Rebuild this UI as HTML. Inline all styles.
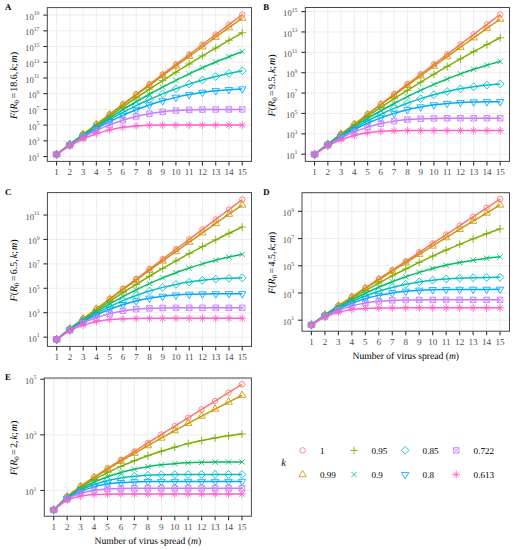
<!DOCTYPE html>
<html><head><meta charset="utf-8"><style>
html,body{margin:0;padding:0;background:#fff;}
svg{display:block;font-family:"Liberation Serif",serif;text-rendering:geometricPrecision;}
</style></head><body>
<svg width="515" height="550" viewBox="0 0 515 550">
<rect width="515" height="550" fill="#fff"/>
<g stroke="#EBEBEB" stroke-width="0.9">
<line x1="56.58" y1="7.60" x2="56.58" y2="161.40"/>
<line x1="69.84" y1="7.60" x2="69.84" y2="161.40"/>
<line x1="83.10" y1="7.60" x2="83.10" y2="161.40"/>
<line x1="96.36" y1="7.60" x2="96.36" y2="161.40"/>
<line x1="109.62" y1="7.60" x2="109.62" y2="161.40"/>
<line x1="122.88" y1="7.60" x2="122.88" y2="161.40"/>
<line x1="136.14" y1="7.60" x2="136.14" y2="161.40"/>
<line x1="149.40" y1="7.60" x2="149.40" y2="161.40"/>
<line x1="162.66" y1="7.60" x2="162.66" y2="161.40"/>
<line x1="175.92" y1="7.60" x2="175.92" y2="161.40"/>
<line x1="189.18" y1="7.60" x2="189.18" y2="161.40"/>
<line x1="202.44" y1="7.60" x2="202.44" y2="161.40"/>
<line x1="215.70" y1="7.60" x2="215.70" y2="161.40"/>
<line x1="228.96" y1="7.60" x2="228.96" y2="161.40"/>
<line x1="242.22" y1="7.60" x2="242.22" y2="161.40"/>
<line x1="47.30" y1="156.53" x2="251.50" y2="156.53"/>
<line x1="47.30" y1="140.81" x2="251.50" y2="140.81"/>
<line x1="47.30" y1="125.10" x2="251.50" y2="125.10"/>
<line x1="47.30" y1="109.39" x2="251.50" y2="109.39"/>
<line x1="47.30" y1="93.68" x2="251.50" y2="93.68"/>
<line x1="47.30" y1="77.96" x2="251.50" y2="77.96"/>
<line x1="47.30" y1="62.25" x2="251.50" y2="62.25"/>
<line x1="47.30" y1="46.54" x2="251.50" y2="46.54"/>
<line x1="47.30" y1="30.83" x2="251.50" y2="30.83"/>
<line x1="47.30" y1="15.11" x2="251.50" y2="15.11"/>
</g>
<path d="M56.58 154.41C61.00 151.03 65.42 147.61 69.84 144.26C74.26 140.90 78.68 137.60 83.10 134.27C87.52 130.95 91.94 127.62 96.36 124.30C100.78 120.98 105.20 117.65 109.62 114.33C114.04 111.00 118.46 107.68 122.88 104.35C127.30 101.03 131.72 97.70 136.14 94.38C140.56 91.05 144.98 87.73 149.40 84.41C153.82 81.08 158.24 77.76 162.66 74.43C167.08 71.11 171.50 67.78 175.92 64.46C180.34 61.13 184.76 57.81 189.18 54.49C193.60 51.16 198.02 47.84 202.44 44.51C206.86 41.19 211.28 37.86 215.70 34.54C220.12 31.21 224.54 27.89 228.96 24.56C233.38 21.24 237.80 17.92 242.22 14.59" fill="none" stroke="#F8766D" stroke-width="1.5" stroke-linejoin="round"/>
<path d="M56.58 154.41C61.00 151.04 65.42 147.63 69.84 144.29C74.26 140.95 78.68 137.67 83.10 134.37C87.52 131.07 91.94 127.79 96.36 124.50C100.78 121.21 105.20 117.94 109.62 114.66C114.04 111.39 118.46 108.12 122.88 104.86C127.30 101.59 131.72 98.34 136.14 95.09C140.56 91.84 144.98 88.59 149.40 85.35C153.82 82.11 158.24 78.88 162.66 75.65C167.08 72.42 171.50 69.20 175.92 65.98C180.34 62.77 184.76 59.56 189.18 56.35C193.60 53.15 198.02 49.95 202.44 46.75C206.86 43.56 211.28 40.37 215.70 37.19C220.12 34.01 224.54 30.83 228.96 27.66C233.38 24.49 237.80 21.33 242.22 18.16" fill="none" stroke="#CD9600" stroke-width="1.5" stroke-linejoin="round"/>
<path d="M56.58 154.41C61.00 151.08 65.42 147.69 69.84 144.42C74.26 141.15 78.68 137.96 83.10 134.78C87.52 131.59 91.94 128.44 96.36 125.32C100.78 122.19 105.20 119.10 109.62 116.03C114.04 112.97 118.46 109.93 122.88 106.92C127.30 103.91 131.72 100.93 136.14 97.98C140.56 95.03 144.98 92.11 149.40 89.22C153.82 86.33 158.24 83.47 162.66 80.63C167.08 77.80 171.50 75.00 175.92 72.22C180.34 69.44 184.76 66.70 189.18 63.98C193.60 61.26 198.02 58.57 202.44 55.91C206.86 53.25 211.28 50.62 215.70 48.02C220.12 45.42 224.54 42.85 228.96 40.30C233.38 37.76 237.80 35.27 242.22 32.76" fill="none" stroke="#7CAE00" stroke-width="1.5" stroke-linejoin="round"/>
<path d="M56.58 154.41C61.00 151.14 65.42 147.78 69.84 144.60C74.26 141.41 78.68 138.34 83.10 135.31C87.52 132.27 91.94 129.30 96.36 126.39C100.78 123.47 105.20 120.62 109.62 117.82C114.04 115.02 118.46 112.29 122.88 109.61C127.30 106.93 131.72 104.32 136.14 101.76C140.56 99.20 144.98 96.70 149.40 94.26C153.82 91.82 158.24 89.44 162.66 87.11C167.08 84.79 171.50 82.53 175.92 80.32C180.34 78.12 184.76 75.97 189.18 73.88C193.60 71.80 198.02 69.77 202.44 67.80C206.86 65.83 211.28 63.92 215.70 62.06C220.12 60.21 224.54 58.41 228.96 56.68C233.38 54.94 237.80 53.32 242.22 51.64" fill="none" stroke="#00BE67" stroke-width="1.5" stroke-linejoin="round"/>
<path d="M56.58 154.41C61.00 151.20 65.42 147.87 69.84 144.78C74.26 141.69 78.68 138.74 83.10 135.87C87.52 132.99 91.94 130.20 96.36 127.51C100.78 124.81 105.20 122.21 109.62 119.70C114.04 117.18 118.46 114.76 122.88 112.43C127.30 110.09 131.72 107.85 136.14 105.70C140.56 103.55 144.98 101.49 149.40 99.51C153.82 97.54 158.24 95.66 162.66 93.86C167.08 92.06 171.50 90.36 175.92 88.74C180.34 87.12 184.76 85.59 189.18 84.14C193.60 82.70 198.02 81.34 202.44 80.07C206.86 78.79 211.28 77.61 215.70 76.50C220.12 75.39 224.54 74.37 228.96 73.43C233.38 72.49 237.80 71.71 242.22 70.84" fill="none" stroke="#00BFC4" stroke-width="1.5" stroke-linejoin="round"/>
<path d="M56.58 154.41C61.00 151.26 65.42 147.97 69.84 144.97C74.26 141.98 78.68 139.17 83.10 136.45C87.52 133.74 91.94 131.15 96.36 128.69C100.78 126.22 105.20 123.88 109.62 121.66C114.04 119.44 118.46 117.35 122.88 115.37C127.30 113.40 131.72 111.55 136.14 109.81C140.56 108.08 144.98 106.47 149.40 104.97C153.82 103.47 158.24 102.09 162.66 100.83C167.08 99.56 171.50 98.41 175.92 97.37C180.34 96.33 184.76 95.40 189.18 94.57C193.60 93.74 198.02 93.02 202.44 92.39C206.86 91.76 211.28 91.23 215.70 90.78C220.12 90.32 224.54 89.97 228.96 89.67C233.38 89.36 237.80 89.20 242.22 88.97" fill="none" stroke="#00A9FF" stroke-width="1.5" stroke-linejoin="round"/>
<path d="M56.58 154.41C61.00 151.37 65.42 148.13 69.84 145.30C74.26 142.47 78.68 139.88 83.10 137.44C87.52 135.00 91.94 132.74 96.36 130.65C100.78 128.57 105.20 126.66 109.62 124.92C114.04 123.19 118.46 121.62 122.88 120.22C127.30 118.82 131.72 117.59 136.14 116.51C140.56 115.42 144.98 114.51 149.40 113.72C153.82 112.93 158.24 112.31 162.66 111.78C167.08 111.25 171.50 110.87 175.92 110.56C180.34 110.25 184.76 110.05 189.18 109.89C193.60 109.73 198.02 109.66 202.44 109.60C206.86 109.53 211.28 109.51 215.70 109.49C220.12 109.47 224.54 109.47 228.96 109.46C233.38 109.46 237.80 109.46 242.22 109.46" fill="none" stroke="#C77CFF" stroke-width="1.5" stroke-linejoin="round"/>
<path d="M56.58 154.41C61.00 151.55 65.42 148.39 69.84 145.82C74.26 143.25 78.68 141.00 83.10 138.98C87.52 136.96 91.94 135.21 96.36 133.69C100.78 132.17 105.20 130.92 109.62 129.87C114.04 128.81 118.46 128.01 122.88 127.36C127.30 126.71 131.72 126.29 136.14 125.95C140.56 125.60 144.98 125.45 149.40 125.31C153.82 125.17 158.24 125.13 162.66 125.10C167.08 125.07 171.50 125.06 175.92 125.05C180.34 125.05 184.76 125.05 189.18 125.05C193.60 125.05 198.02 125.05 202.44 125.05C206.86 125.05 211.28 125.05 215.70 125.05C220.12 125.05 224.54 125.05 228.96 125.05C233.38 125.05 237.80 125.05 242.22 125.05" fill="none" stroke="#FF61CC" stroke-width="1.5" stroke-linejoin="round"/>
<circle cx="56.58" cy="154.41" r="2.75" stroke="#F8766D" stroke-width="0.85" fill="none"/>
<circle cx="69.84" cy="144.26" r="2.75" stroke="#F8766D" stroke-width="0.85" fill="none"/>
<circle cx="83.10" cy="134.27" r="2.75" stroke="#F8766D" stroke-width="0.85" fill="none"/>
<circle cx="96.36" cy="124.30" r="2.75" stroke="#F8766D" stroke-width="0.85" fill="none"/>
<circle cx="109.62" cy="114.33" r="2.75" stroke="#F8766D" stroke-width="0.85" fill="none"/>
<circle cx="122.88" cy="104.35" r="2.75" stroke="#F8766D" stroke-width="0.85" fill="none"/>
<circle cx="136.14" cy="94.38" r="2.75" stroke="#F8766D" stroke-width="0.85" fill="none"/>
<circle cx="149.40" cy="84.41" r="2.75" stroke="#F8766D" stroke-width="0.85" fill="none"/>
<circle cx="162.66" cy="74.43" r="2.75" stroke="#F8766D" stroke-width="0.85" fill="none"/>
<circle cx="175.92" cy="64.46" r="2.75" stroke="#F8766D" stroke-width="0.85" fill="none"/>
<circle cx="189.18" cy="54.49" r="2.75" stroke="#F8766D" stroke-width="0.85" fill="none"/>
<circle cx="202.44" cy="44.51" r="2.75" stroke="#F8766D" stroke-width="0.85" fill="none"/>
<circle cx="215.70" cy="34.54" r="2.75" stroke="#F8766D" stroke-width="0.85" fill="none"/>
<circle cx="228.96" cy="24.56" r="2.75" stroke="#F8766D" stroke-width="0.85" fill="none"/>
<circle cx="242.22" cy="14.59" r="2.75" stroke="#F8766D" stroke-width="0.85" fill="none"/>
<polygon points="56.58,150.13 60.29,156.55 52.88,156.55" stroke="#CD9600" stroke-width="0.85" fill="none" stroke-linejoin="miter"/>
<polygon points="69.84,140.01 73.55,146.43 66.14,146.43" stroke="#CD9600" stroke-width="0.85" fill="none" stroke-linejoin="miter"/>
<polygon points="83.10,130.10 86.80,136.51 79.40,136.51" stroke="#CD9600" stroke-width="0.85" fill="none" stroke-linejoin="miter"/>
<polygon points="96.36,120.22 100.06,126.64 92.66,126.64" stroke="#CD9600" stroke-width="0.85" fill="none" stroke-linejoin="miter"/>
<polygon points="109.62,110.38 113.32,116.80 105.92,116.80" stroke="#CD9600" stroke-width="0.85" fill="none" stroke-linejoin="miter"/>
<polygon points="122.88,100.58 126.58,107.00 119.18,107.00" stroke="#CD9600" stroke-width="0.85" fill="none" stroke-linejoin="miter"/>
<polygon points="136.14,90.81 139.84,97.23 132.44,97.23" stroke="#CD9600" stroke-width="0.85" fill="none" stroke-linejoin="miter"/>
<polygon points="149.40,81.08 153.10,87.49 145.70,87.49" stroke="#CD9600" stroke-width="0.85" fill="none" stroke-linejoin="miter"/>
<polygon points="162.66,71.37 166.36,77.79 158.96,77.79" stroke="#CD9600" stroke-width="0.85" fill="none" stroke-linejoin="miter"/>
<polygon points="175.92,61.71 179.62,68.12 172.22,68.12" stroke="#CD9600" stroke-width="0.85" fill="none" stroke-linejoin="miter"/>
<polygon points="189.18,52.07 192.88,58.49 185.48,58.49" stroke="#CD9600" stroke-width="0.85" fill="none" stroke-linejoin="miter"/>
<polygon points="202.44,42.48 206.14,48.89 198.74,48.89" stroke="#CD9600" stroke-width="0.85" fill="none" stroke-linejoin="miter"/>
<polygon points="215.70,32.91 219.40,39.33 212.00,39.33" stroke="#CD9600" stroke-width="0.85" fill="none" stroke-linejoin="miter"/>
<polygon points="228.96,23.38 232.66,29.80 225.25,29.80" stroke="#CD9600" stroke-width="0.85" fill="none" stroke-linejoin="miter"/>
<polygon points="242.22,13.89 245.92,20.30 238.51,20.30" stroke="#CD9600" stroke-width="0.85" fill="none" stroke-linejoin="miter"/>
<path d="M52.69 154.41H60.47M56.58 150.52V158.30" stroke="#7CAE00" stroke-width="0.85" fill="none"/>
<path d="M65.95 144.42H73.73M69.84 140.53V148.31" stroke="#7CAE00" stroke-width="0.85" fill="none"/>
<path d="M79.21 134.78H86.99M83.10 130.89V138.67" stroke="#7CAE00" stroke-width="0.85" fill="none"/>
<path d="M92.47 125.32H100.25M96.36 121.43V129.21" stroke="#7CAE00" stroke-width="0.85" fill="none"/>
<path d="M105.73 116.03H113.51M109.62 112.14V119.92" stroke="#7CAE00" stroke-width="0.85" fill="none"/>
<path d="M118.99 106.92H126.77M122.88 103.03V110.81" stroke="#7CAE00" stroke-width="0.85" fill="none"/>
<path d="M132.25 97.98H140.03M136.14 94.10V101.87" stroke="#7CAE00" stroke-width="0.85" fill="none"/>
<path d="M145.51 89.22H153.29M149.40 85.33V93.11" stroke="#7CAE00" stroke-width="0.85" fill="none"/>
<path d="M158.77 80.63H166.55M162.66 76.74V84.52" stroke="#7CAE00" stroke-width="0.85" fill="none"/>
<path d="M172.03 72.22H179.81M175.92 68.33V76.11" stroke="#7CAE00" stroke-width="0.85" fill="none"/>
<path d="M185.29 63.98H193.07M189.18 60.09V67.87" stroke="#7CAE00" stroke-width="0.85" fill="none"/>
<path d="M198.55 55.91H206.33M202.44 52.02V59.80" stroke="#7CAE00" stroke-width="0.85" fill="none"/>
<path d="M211.81 48.02H219.59M215.70 44.13V51.91" stroke="#7CAE00" stroke-width="0.85" fill="none"/>
<path d="M225.07 40.30H232.85M228.96 36.41V44.19" stroke="#7CAE00" stroke-width="0.85" fill="none"/>
<path d="M238.33 32.76H246.11M242.22 28.87V36.65" stroke="#7CAE00" stroke-width="0.85" fill="none"/>
<path d="M53.83 151.66L59.33 157.16M53.83 157.16L59.33 151.66" stroke="#00BE67" stroke-width="0.85" fill="none"/>
<path d="M67.09 141.85L72.59 147.35M67.09 147.35L72.59 141.85" stroke="#00BE67" stroke-width="0.85" fill="none"/>
<path d="M80.35 132.56L85.85 138.06M80.35 138.06L85.85 132.56" stroke="#00BE67" stroke-width="0.85" fill="none"/>
<path d="M93.61 123.64L99.11 129.14M93.61 129.14L99.11 123.64" stroke="#00BE67" stroke-width="0.85" fill="none"/>
<path d="M106.87 115.07L112.37 120.57M106.87 120.57L112.37 115.07" stroke="#00BE67" stroke-width="0.85" fill="none"/>
<path d="M120.13 106.86L125.63 112.36M120.13 112.36L125.63 106.86" stroke="#00BE67" stroke-width="0.85" fill="none"/>
<path d="M133.39 99.01L138.89 104.51M133.39 104.51L138.89 99.01" stroke="#00BE67" stroke-width="0.85" fill="none"/>
<path d="M146.65 91.51L152.15 97.01M146.65 97.01L152.15 91.51" stroke="#00BE67" stroke-width="0.85" fill="none"/>
<path d="M159.91 84.36L165.41 89.86M159.91 89.86L165.41 84.36" stroke="#00BE67" stroke-width="0.85" fill="none"/>
<path d="M173.17 77.57L178.67 83.07M173.17 83.07L178.67 77.57" stroke="#00BE67" stroke-width="0.85" fill="none"/>
<path d="M186.43 71.13L191.93 76.63M186.43 76.63L191.93 71.13" stroke="#00BE67" stroke-width="0.85" fill="none"/>
<path d="M199.69 65.05L205.19 70.55M199.69 70.55L205.19 65.05" stroke="#00BE67" stroke-width="0.85" fill="none"/>
<path d="M212.95 59.31L218.45 64.81M212.95 64.81L218.45 59.31" stroke="#00BE67" stroke-width="0.85" fill="none"/>
<path d="M226.21 53.93L231.71 59.43M226.21 59.43L231.71 53.93" stroke="#00BE67" stroke-width="0.85" fill="none"/>
<path d="M239.47 48.89L244.97 54.39M239.47 54.39L244.97 48.89" stroke="#00BE67" stroke-width="0.85" fill="none"/>
<path d="M52.69 154.41L56.58 150.52L60.47 154.41L56.58 158.30Z" stroke="#00BFC4" stroke-width="0.85" fill="none"/>
<path d="M65.95 144.78L69.84 140.89L73.73 144.78L69.84 148.67Z" stroke="#00BFC4" stroke-width="0.85" fill="none"/>
<path d="M79.21 135.87L83.10 131.98L86.99 135.87L83.10 139.75Z" stroke="#00BFC4" stroke-width="0.85" fill="none"/>
<path d="M92.47 127.51L96.36 123.62L100.25 127.51L96.36 131.40Z" stroke="#00BFC4" stroke-width="0.85" fill="none"/>
<path d="M105.73 119.70L109.62 115.81L113.51 119.70L109.62 123.58Z" stroke="#00BFC4" stroke-width="0.85" fill="none"/>
<path d="M118.99 112.43L122.88 108.54L126.77 112.43L122.88 116.32Z" stroke="#00BFC4" stroke-width="0.85" fill="none"/>
<path d="M132.25 105.70L136.14 101.81L140.03 105.70L136.14 109.59Z" stroke="#00BFC4" stroke-width="0.85" fill="none"/>
<path d="M145.51 99.51L149.40 95.62L153.29 99.51L149.40 103.40Z" stroke="#00BFC4" stroke-width="0.85" fill="none"/>
<path d="M158.77 93.86L162.66 89.97L166.55 93.86L162.66 97.75Z" stroke="#00BFC4" stroke-width="0.85" fill="none"/>
<path d="M172.03 88.74L175.92 84.85L179.81 88.74L175.92 92.63Z" stroke="#00BFC4" stroke-width="0.85" fill="none"/>
<path d="M185.29 84.14L189.18 80.25L193.07 84.14L189.18 88.03Z" stroke="#00BFC4" stroke-width="0.85" fill="none"/>
<path d="M198.55 80.07L202.44 76.18L206.33 80.07L202.44 83.96Z" stroke="#00BFC4" stroke-width="0.85" fill="none"/>
<path d="M211.81 76.50L215.70 72.61L219.59 76.50L215.70 80.39Z" stroke="#00BFC4" stroke-width="0.85" fill="none"/>
<path d="M225.07 73.43L228.96 69.54L232.85 73.43L228.96 77.32Z" stroke="#00BFC4" stroke-width="0.85" fill="none"/>
<path d="M238.33 70.84L242.22 66.96L246.11 70.84L242.22 74.73Z" stroke="#00BFC4" stroke-width="0.85" fill="none"/>
<polygon points="56.58,158.69 60.29,152.27 52.88,152.27" stroke="#00A9FF" stroke-width="0.85" fill="none" stroke-linejoin="miter"/>
<polygon points="69.84,149.25 73.55,142.84 66.14,142.84" stroke="#00A9FF" stroke-width="0.85" fill="none" stroke-linejoin="miter"/>
<polygon points="83.10,140.73 86.80,134.31 79.40,134.31" stroke="#00A9FF" stroke-width="0.85" fill="none" stroke-linejoin="miter"/>
<polygon points="96.36,132.96 100.06,126.55 92.66,126.55" stroke="#00A9FF" stroke-width="0.85" fill="none" stroke-linejoin="miter"/>
<polygon points="109.62,125.94 113.32,119.52 105.92,119.52" stroke="#00A9FF" stroke-width="0.85" fill="none" stroke-linejoin="miter"/>
<polygon points="122.88,119.65 126.58,113.24 119.18,113.24" stroke="#00A9FF" stroke-width="0.85" fill="none" stroke-linejoin="miter"/>
<polygon points="136.14,114.09 139.84,107.67 132.44,107.67" stroke="#00A9FF" stroke-width="0.85" fill="none" stroke-linejoin="miter"/>
<polygon points="149.40,109.24 153.10,102.83 145.70,102.83" stroke="#00A9FF" stroke-width="0.85" fill="none" stroke-linejoin="miter"/>
<polygon points="162.66,105.10 166.36,98.69 158.96,98.69" stroke="#00A9FF" stroke-width="0.85" fill="none" stroke-linejoin="miter"/>
<polygon points="175.92,101.65 179.62,95.23 172.22,95.23" stroke="#00A9FF" stroke-width="0.85" fill="none" stroke-linejoin="miter"/>
<polygon points="189.18,98.85 192.88,92.43 185.48,92.43" stroke="#00A9FF" stroke-width="0.85" fill="none" stroke-linejoin="miter"/>
<polygon points="202.44,96.67 206.14,90.25 198.74,90.25" stroke="#00A9FF" stroke-width="0.85" fill="none" stroke-linejoin="miter"/>
<polygon points="215.70,95.05 219.40,88.64 212.00,88.64" stroke="#00A9FF" stroke-width="0.85" fill="none" stroke-linejoin="miter"/>
<polygon points="228.96,93.94 232.66,87.53 225.25,87.53" stroke="#00A9FF" stroke-width="0.85" fill="none" stroke-linejoin="miter"/>
<polygon points="242.22,93.24 245.92,86.83 238.51,86.83" stroke="#00A9FF" stroke-width="0.85" fill="none" stroke-linejoin="miter"/>
<path d="M53.83 151.66H59.33V157.16H53.83ZM53.83 151.66L59.33 157.16M53.83 157.16L59.33 151.66" stroke="#C77CFF" stroke-width="0.85" fill="none"/>
<path d="M67.09 142.55H72.59V148.05H67.09ZM67.09 142.55L72.59 148.05M67.09 148.05L72.59 142.55" stroke="#C77CFF" stroke-width="0.85" fill="none"/>
<path d="M80.35 134.69H85.85V140.19H80.35ZM80.35 134.69L85.85 140.19M80.35 140.19L85.85 134.69" stroke="#C77CFF" stroke-width="0.85" fill="none"/>
<path d="M93.61 127.90H99.11V133.40H93.61ZM93.61 127.90L99.11 133.40M93.61 133.40L99.11 127.90" stroke="#C77CFF" stroke-width="0.85" fill="none"/>
<path d="M106.87 122.17H112.37V127.67H106.87ZM106.87 122.17L112.37 127.67M106.87 127.67L112.37 122.17" stroke="#C77CFF" stroke-width="0.85" fill="none"/>
<path d="M120.13 117.47H125.63V122.97H120.13ZM120.13 117.47L125.63 122.97M120.13 122.97L125.63 117.47" stroke="#C77CFF" stroke-width="0.85" fill="none"/>
<path d="M133.39 113.76H138.89V119.26H133.39ZM133.39 113.76L138.89 119.26M133.39 119.26L138.89 113.76" stroke="#C77CFF" stroke-width="0.85" fill="none"/>
<path d="M146.65 110.97H152.15V116.47H146.65ZM146.65 110.97L152.15 116.47M146.65 116.47L152.15 110.97" stroke="#C77CFF" stroke-width="0.85" fill="none"/>
<path d="M159.91 109.03H165.41V114.53H159.91ZM159.91 109.03L165.41 114.53M159.91 114.53L165.41 109.03" stroke="#C77CFF" stroke-width="0.85" fill="none"/>
<path d="M173.17 107.81H178.67V113.31H173.17ZM173.17 107.81L178.67 113.31M173.17 113.31L178.67 107.81" stroke="#C77CFF" stroke-width="0.85" fill="none"/>
<path d="M186.43 107.14H191.93V112.64H186.43ZM186.43 107.14L191.93 112.64M186.43 112.64L191.93 107.14" stroke="#C77CFF" stroke-width="0.85" fill="none"/>
<path d="M199.69 106.85H205.19V112.35H199.69ZM199.69 106.85L205.19 112.35M199.69 112.35L205.19 106.85" stroke="#C77CFF" stroke-width="0.85" fill="none"/>
<path d="M212.95 106.74H218.45V112.24H212.95ZM212.95 106.74L218.45 112.24M212.95 112.24L218.45 106.74" stroke="#C77CFF" stroke-width="0.85" fill="none"/>
<path d="M226.21 106.71H231.71V112.21H226.21ZM226.21 106.71L231.71 112.21M226.21 112.21L231.71 106.71" stroke="#C77CFF" stroke-width="0.85" fill="none"/>
<path d="M239.47 106.71H244.97V112.21H239.47ZM239.47 106.71L244.97 112.21M239.47 112.21L244.97 106.71" stroke="#C77CFF" stroke-width="0.85" fill="none"/>
<path d="M53.83 151.66L59.33 157.16M53.83 157.16L59.33 151.66M52.69 154.41H60.47M56.58 150.52V158.30" stroke="#FF61CC" stroke-width="0.85" fill="none"/>
<path d="M67.09 143.07L72.59 148.57M67.09 148.57L72.59 143.07M65.95 145.82H73.73M69.84 141.93V149.71" stroke="#FF61CC" stroke-width="0.85" fill="none"/>
<path d="M80.35 136.23L85.85 141.73M80.35 141.73L85.85 136.23M79.21 138.98H86.99M83.10 135.09V142.87" stroke="#FF61CC" stroke-width="0.85" fill="none"/>
<path d="M93.61 130.94L99.11 136.44M93.61 136.44L99.11 130.94M92.47 133.69H100.25M96.36 129.80V137.58" stroke="#FF61CC" stroke-width="0.85" fill="none"/>
<path d="M106.87 127.12L112.37 132.62M106.87 132.62L112.37 127.12M105.73 129.87H113.51M109.62 125.98V133.76" stroke="#FF61CC" stroke-width="0.85" fill="none"/>
<path d="M120.13 124.61L125.63 130.11M120.13 130.11L125.63 124.61M118.99 127.36H126.77M122.88 123.47V131.25" stroke="#FF61CC" stroke-width="0.85" fill="none"/>
<path d="M133.39 123.20L138.89 128.70M133.39 128.70L138.89 123.20M132.25 125.95H140.03M136.14 122.06V129.83" stroke="#FF61CC" stroke-width="0.85" fill="none"/>
<path d="M146.65 122.56L152.15 128.06M146.65 128.06L152.15 122.56M145.51 125.31H153.29M149.40 121.42V129.20" stroke="#FF61CC" stroke-width="0.85" fill="none"/>
<path d="M159.91 122.35L165.41 127.85M159.91 127.85L165.41 122.35M158.77 125.10H166.55M162.66 121.21V128.99" stroke="#FF61CC" stroke-width="0.85" fill="none"/>
<path d="M173.17 122.30L178.67 127.80M173.17 127.80L178.67 122.30M172.03 125.05H179.81M175.92 121.16V128.94" stroke="#FF61CC" stroke-width="0.85" fill="none"/>
<path d="M186.43 122.30L191.93 127.80M186.43 127.80L191.93 122.30M185.29 125.05H193.07M189.18 121.16V128.94" stroke="#FF61CC" stroke-width="0.85" fill="none"/>
<path d="M199.69 122.30L205.19 127.80M199.69 127.80L205.19 122.30M198.55 125.05H206.33M202.44 121.16V128.94" stroke="#FF61CC" stroke-width="0.85" fill="none"/>
<path d="M212.95 122.30L218.45 127.80M212.95 127.80L218.45 122.30M211.81 125.05H219.59M215.70 121.16V128.94" stroke="#FF61CC" stroke-width="0.85" fill="none"/>
<path d="M226.21 122.30L231.71 127.80M226.21 127.80L231.71 122.30M225.07 125.05H232.85M228.96 121.16V128.94" stroke="#FF61CC" stroke-width="0.85" fill="none"/>
<path d="M239.47 122.30L244.97 127.80M239.47 127.80L244.97 122.30M238.33 125.05H246.11M242.22 121.16V128.94" stroke="#FF61CC" stroke-width="0.85" fill="none"/>
<rect x="47.30" y="7.60" width="204.20" height="153.80" fill="none" stroke="#474747" stroke-width="1"/>
<g stroke="#333333" stroke-width="1.1">
<line x1="56.58" y1="161.40" x2="56.58" y2="165.40"/>
<line x1="69.84" y1="161.40" x2="69.84" y2="165.40"/>
<line x1="83.10" y1="161.40" x2="83.10" y2="165.40"/>
<line x1="96.36" y1="161.40" x2="96.36" y2="165.40"/>
<line x1="109.62" y1="161.40" x2="109.62" y2="165.40"/>
<line x1="122.88" y1="161.40" x2="122.88" y2="165.40"/>
<line x1="136.14" y1="161.40" x2="136.14" y2="165.40"/>
<line x1="149.40" y1="161.40" x2="149.40" y2="165.40"/>
<line x1="162.66" y1="161.40" x2="162.66" y2="165.40"/>
<line x1="175.92" y1="161.40" x2="175.92" y2="165.40"/>
<line x1="189.18" y1="161.40" x2="189.18" y2="165.40"/>
<line x1="202.44" y1="161.40" x2="202.44" y2="165.40"/>
<line x1="215.70" y1="161.40" x2="215.70" y2="165.40"/>
<line x1="228.96" y1="161.40" x2="228.96" y2="165.40"/>
<line x1="242.22" y1="161.40" x2="242.22" y2="165.40"/>
<line x1="43.30" y1="156.53" x2="47.30" y2="156.53"/>
<line x1="43.30" y1="140.81" x2="47.30" y2="140.81"/>
<line x1="43.30" y1="125.10" x2="47.30" y2="125.10"/>
<line x1="43.30" y1="109.39" x2="47.30" y2="109.39"/>
<line x1="43.30" y1="93.68" x2="47.30" y2="93.68"/>
<line x1="43.30" y1="77.96" x2="47.30" y2="77.96"/>
<line x1="43.30" y1="62.25" x2="47.30" y2="62.25"/>
<line x1="43.30" y1="46.54" x2="47.30" y2="46.54"/>
<line x1="43.30" y1="30.83" x2="47.30" y2="30.83"/>
<line x1="43.30" y1="15.11" x2="47.30" y2="15.11"/>
</g>
<g fill="#4D4D4D" font-size="9.1" text-anchor="middle">
<text x="56.58" y="174.80">1</text>
<text x="69.84" y="174.80">2</text>
<text x="83.10" y="174.80">3</text>
<text x="96.36" y="174.80">4</text>
<text x="109.62" y="174.80">5</text>
<text x="122.88" y="174.80">6</text>
<text x="136.14" y="174.80">7</text>
<text x="149.40" y="174.80">8</text>
<text x="162.66" y="174.80">9</text>
<text x="175.92" y="174.80">10</text>
<text x="189.18" y="174.80">11</text>
<text x="202.44" y="174.80">12</text>
<text x="215.70" y="174.80">13</text>
<text x="228.96" y="174.80">14</text>
<text x="242.22" y="174.80">15</text>
</g>
<g fill="#4D4D4D" font-size="8.6" text-anchor="end">
<text x="39.50" y="161.13">10<tspan font-size="5.8" dy="-4.3">1</tspan></text>
<text x="39.50" y="145.41">10<tspan font-size="5.8" dy="-4.3">3</tspan></text>
<text x="39.50" y="129.70">10<tspan font-size="5.8" dy="-4.3">5</tspan></text>
<text x="39.50" y="113.99">10<tspan font-size="5.8" dy="-4.3">7</tspan></text>
<text x="39.50" y="98.28">10<tspan font-size="5.8" dy="-4.3">9</tspan></text>
<text x="39.50" y="82.56">10<tspan font-size="5.8" dy="-4.3">11</tspan></text>
<text x="39.50" y="66.85">10<tspan font-size="5.8" dy="-4.3">13</tspan></text>
<text x="39.50" y="51.14">10<tspan font-size="5.8" dy="-4.3">15</tspan></text>
<text x="39.50" y="35.43">10<tspan font-size="5.8" dy="-4.3">17</tspan></text>
<text x="39.50" y="19.71">10<tspan font-size="5.8" dy="-4.3">19</tspan></text>
</g>
<text x="5.00" y="10.10" font-size="8.8" font-weight="bold">A</text>
<text transform="translate(17.40,85.40) rotate(-90)" font-size="10.0" text-anchor="middle"><tspan font-style="italic">F</tspan>(<tspan font-style="italic">R</tspan><tspan font-size="7.00" dy="1.8">0</tspan><tspan dy="-1.8" dx="1.3">=</tspan><tspan dx="1.3">18.6,</tspan><tspan dx="1" font-style="italic">k</tspan><tspan>;</tspan><tspan dx="1" font-style="italic">m</tspan>)</text>
<g stroke="#EBEBEB" stroke-width="0.9">
<line x1="314.58" y1="7.50" x2="314.58" y2="161.40"/>
<line x1="327.84" y1="7.50" x2="327.84" y2="161.40"/>
<line x1="341.10" y1="7.50" x2="341.10" y2="161.40"/>
<line x1="354.36" y1="7.50" x2="354.36" y2="161.40"/>
<line x1="367.62" y1="7.50" x2="367.62" y2="161.40"/>
<line x1="380.88" y1="7.50" x2="380.88" y2="161.40"/>
<line x1="394.14" y1="7.50" x2="394.14" y2="161.40"/>
<line x1="407.40" y1="7.50" x2="407.40" y2="161.40"/>
<line x1="420.66" y1="7.50" x2="420.66" y2="161.40"/>
<line x1="433.92" y1="7.50" x2="433.92" y2="161.40"/>
<line x1="447.18" y1="7.50" x2="447.18" y2="161.40"/>
<line x1="460.44" y1="7.50" x2="460.44" y2="161.40"/>
<line x1="473.70" y1="7.50" x2="473.70" y2="161.40"/>
<line x1="486.96" y1="7.50" x2="486.96" y2="161.40"/>
<line x1="500.22" y1="7.50" x2="500.22" y2="161.40"/>
<line x1="305.30" y1="154.18" x2="509.50" y2="154.18"/>
<line x1="305.30" y1="133.81" x2="509.50" y2="133.81"/>
<line x1="305.30" y1="113.44" x2="509.50" y2="113.44"/>
<line x1="305.30" y1="93.07" x2="509.50" y2="93.07"/>
<line x1="305.30" y1="72.70" x2="509.50" y2="72.70"/>
<line x1="305.30" y1="52.33" x2="509.50" y2="52.33"/>
<line x1="305.30" y1="31.95" x2="509.50" y2="31.95"/>
<line x1="305.30" y1="11.58" x2="509.50" y2="11.58"/>
</g>
<path d="M314.58 154.40C319.00 150.94 323.42 147.40 327.84 144.00C332.26 140.60 336.68 137.33 341.10 134.00C345.52 130.67 349.94 127.36 354.36 124.04C358.78 120.72 363.20 117.40 367.62 114.08C372.04 110.76 376.46 107.44 380.88 104.12C385.30 100.80 389.72 97.48 394.14 94.16C398.56 90.84 402.98 87.52 407.40 84.20C411.82 80.88 416.24 77.57 420.66 74.25C425.08 70.93 429.50 67.61 433.92 64.29C438.34 60.97 442.76 57.65 447.18 54.33C451.60 51.01 456.02 47.69 460.44 44.37C464.86 41.05 469.28 37.73 473.70 34.41C478.12 31.09 482.54 27.77 486.96 24.45C491.38 21.13 495.80 17.81 500.22 14.50" fill="none" stroke="#F8766D" stroke-width="1.5" stroke-linejoin="round"/>
<path d="M314.58 154.40C319.00 150.95 323.42 147.42 327.84 144.04C332.26 140.66 336.68 137.42 341.10 134.12C345.52 130.83 349.94 127.56 354.36 124.29C358.78 121.02 363.20 117.76 367.62 114.50C372.04 111.25 376.46 108.00 380.88 104.76C385.30 101.52 389.72 98.29 394.14 95.06C398.56 91.84 402.98 88.62 407.40 85.41C411.82 82.20 416.24 79.00 420.66 75.80C425.08 72.61 429.50 69.42 433.92 66.24C438.34 63.06 442.76 59.89 447.18 56.72C451.60 53.55 456.02 50.40 460.44 47.24C464.86 44.09 469.28 40.95 473.70 37.81C478.12 34.68 482.54 31.55 486.96 28.43C491.38 25.31 495.80 22.20 500.22 19.08" fill="none" stroke="#CD9600" stroke-width="1.5" stroke-linejoin="round"/>
<path d="M314.58 154.40C319.00 151.01 323.42 147.50 327.84 144.21C332.26 140.91 336.68 137.78 341.10 134.63C345.52 131.48 349.94 128.38 354.36 125.32C358.78 122.25 363.20 119.22 367.62 116.23C372.04 113.24 376.46 110.29 380.88 107.37C385.30 104.46 389.72 101.58 394.14 98.74C398.56 95.90 402.98 93.10 407.40 90.33C411.82 87.57 416.24 84.84 420.66 82.15C425.08 79.46 429.50 76.81 433.92 74.19C438.34 71.57 442.76 69.00 447.18 66.45C451.60 63.91 456.02 61.41 460.44 58.94C464.86 56.48 469.28 54.05 473.70 51.66C478.12 49.26 482.54 46.91 486.96 44.59C491.38 42.27 495.80 40.03 500.22 37.75" fill="none" stroke="#7CAE00" stroke-width="1.5" stroke-linejoin="round"/>
<path d="M314.58 154.40C319.00 151.08 323.42 147.61 327.84 144.42C332.26 141.24 336.68 138.25 341.10 135.29C345.52 132.32 349.94 129.45 354.36 126.65C358.78 123.85 363.20 121.12 367.62 118.47C372.04 115.82 376.46 113.25 380.88 110.75C385.30 108.26 389.72 105.84 394.14 103.49C398.56 101.14 402.98 98.87 407.40 96.68C411.82 94.48 416.24 92.36 420.66 90.32C425.08 88.27 429.50 86.30 433.92 84.40C438.34 82.51 442.76 80.68 447.18 78.94C451.60 77.19 456.02 75.51 460.44 73.91C464.86 72.31 469.28 70.78 473.70 69.32C478.12 67.86 482.54 66.48 486.96 65.16C491.38 63.85 495.80 62.68 500.22 61.43" fill="none" stroke="#00BE67" stroke-width="1.5" stroke-linejoin="round"/>
<path d="M314.58 154.40C319.00 151.15 323.42 147.72 327.84 144.65C332.26 141.58 336.68 138.74 341.10 135.97C345.52 133.21 349.94 130.57 354.36 128.04C358.78 125.51 363.20 123.10 367.62 120.80C372.04 118.50 376.46 116.32 380.88 114.25C385.30 112.18 389.72 110.23 394.14 108.39C398.56 106.54 402.98 104.81 407.40 103.19C411.82 101.57 416.24 100.06 420.66 98.65C425.08 97.25 429.50 95.95 433.92 94.76C438.34 93.57 442.76 92.48 447.18 91.49C451.60 90.50 456.02 89.61 460.44 88.81C464.86 88.02 469.28 87.32 473.70 86.70C478.12 86.08 482.54 85.55 486.96 85.10C491.38 84.64 495.80 84.33 500.22 83.95" fill="none" stroke="#00BFC4" stroke-width="1.5" stroke-linejoin="round"/>
<path d="M314.58 154.40C319.00 151.23 323.42 147.84 327.84 144.89C332.26 141.93 336.68 139.26 341.10 136.69C345.52 134.13 349.94 131.73 354.36 129.49C358.78 127.24 363.20 125.15 367.62 123.21C372.04 121.28 376.46 119.49 380.88 117.86C385.30 116.22 389.72 114.73 394.14 113.38C398.56 112.03 402.98 110.83 407.40 109.76C411.82 108.69 416.24 107.76 420.66 106.94C425.08 106.13 429.50 105.45 433.92 104.86C438.34 104.28 442.76 103.82 447.18 103.43C451.60 103.04 456.02 102.76 460.44 102.53C464.86 102.29 469.28 102.15 473.70 102.02C478.12 101.90 482.54 101.84 486.96 101.78C491.38 101.73 495.80 101.72 500.22 101.69" fill="none" stroke="#00A9FF" stroke-width="1.5" stroke-linejoin="round"/>
<path d="M314.58 154.40C319.00 151.36 323.42 148.04 327.84 145.29C332.26 142.53 336.68 140.13 341.10 137.89C345.52 135.65 349.94 133.66 354.36 131.87C358.78 130.07 363.20 128.50 367.62 127.13C372.04 125.75 376.46 124.58 380.88 123.59C385.30 122.59 389.72 121.80 394.14 121.13C398.56 120.47 402.98 120.00 407.40 119.60C411.82 119.21 416.24 118.98 420.66 118.78C425.08 118.58 429.50 118.49 433.92 118.41C438.34 118.33 442.76 118.31 447.18 118.28C451.60 118.26 456.02 118.26 460.44 118.25C464.86 118.25 469.28 118.25 473.70 118.25C478.12 118.24 482.54 118.24 486.96 118.24C491.38 118.24 495.80 118.24 500.22 118.24" fill="none" stroke="#C77CFF" stroke-width="1.5" stroke-linejoin="round"/>
<path d="M314.58 154.40C319.00 151.57 323.42 148.36 327.84 145.91C332.26 143.46 336.68 141.47 341.10 139.73C345.52 137.98 349.94 136.59 354.36 135.42C358.78 134.25 363.20 133.42 367.62 132.74C372.04 132.05 376.46 131.66 380.88 131.33C385.30 131.00 389.72 130.87 394.14 130.76C398.56 130.65 402.98 130.62 407.40 130.60C411.82 130.58 416.24 130.57 420.66 130.57C425.08 130.57 429.50 130.57 433.92 130.57C438.34 130.56 442.76 130.56 447.18 130.56C451.60 130.56 456.02 130.56 460.44 130.56C464.86 130.56 469.28 130.56 473.70 130.56C478.12 130.56 482.54 130.56 486.96 130.56C491.38 130.56 495.80 130.56 500.22 130.56" fill="none" stroke="#FF61CC" stroke-width="1.5" stroke-linejoin="round"/>
<circle cx="314.58" cy="154.40" r="2.75" stroke="#F8766D" stroke-width="0.85" fill="none"/>
<circle cx="327.84" cy="144.00" r="2.75" stroke="#F8766D" stroke-width="0.85" fill="none"/>
<circle cx="341.10" cy="134.00" r="2.75" stroke="#F8766D" stroke-width="0.85" fill="none"/>
<circle cx="354.36" cy="124.04" r="2.75" stroke="#F8766D" stroke-width="0.85" fill="none"/>
<circle cx="367.62" cy="114.08" r="2.75" stroke="#F8766D" stroke-width="0.85" fill="none"/>
<circle cx="380.88" cy="104.12" r="2.75" stroke="#F8766D" stroke-width="0.85" fill="none"/>
<circle cx="394.14" cy="94.16" r="2.75" stroke="#F8766D" stroke-width="0.85" fill="none"/>
<circle cx="407.40" cy="84.20" r="2.75" stroke="#F8766D" stroke-width="0.85" fill="none"/>
<circle cx="420.66" cy="74.25" r="2.75" stroke="#F8766D" stroke-width="0.85" fill="none"/>
<circle cx="433.92" cy="64.29" r="2.75" stroke="#F8766D" stroke-width="0.85" fill="none"/>
<circle cx="447.18" cy="54.33" r="2.75" stroke="#F8766D" stroke-width="0.85" fill="none"/>
<circle cx="460.44" cy="44.37" r="2.75" stroke="#F8766D" stroke-width="0.85" fill="none"/>
<circle cx="473.70" cy="34.41" r="2.75" stroke="#F8766D" stroke-width="0.85" fill="none"/>
<circle cx="486.96" cy="24.45" r="2.75" stroke="#F8766D" stroke-width="0.85" fill="none"/>
<circle cx="500.22" cy="14.50" r="2.75" stroke="#F8766D" stroke-width="0.85" fill="none"/>
<polygon points="314.58,150.13 318.29,156.54 310.88,156.54" stroke="#CD9600" stroke-width="0.85" fill="none" stroke-linejoin="miter"/>
<polygon points="327.84,139.77 331.55,146.18 324.14,146.18" stroke="#CD9600" stroke-width="0.85" fill="none" stroke-linejoin="miter"/>
<polygon points="341.10,129.85 344.80,136.26 337.40,136.26" stroke="#CD9600" stroke-width="0.85" fill="none" stroke-linejoin="miter"/>
<polygon points="354.36,120.01 358.06,126.43 350.66,126.43" stroke="#CD9600" stroke-width="0.85" fill="none" stroke-linejoin="miter"/>
<polygon points="367.62,110.23 371.32,116.64 363.92,116.64" stroke="#CD9600" stroke-width="0.85" fill="none" stroke-linejoin="miter"/>
<polygon points="380.88,100.48 384.58,106.90 377.18,106.90" stroke="#CD9600" stroke-width="0.85" fill="none" stroke-linejoin="miter"/>
<polygon points="394.14,90.79 397.84,97.20 390.44,97.20" stroke="#CD9600" stroke-width="0.85" fill="none" stroke-linejoin="miter"/>
<polygon points="407.40,81.13 411.10,87.55 403.70,87.55" stroke="#CD9600" stroke-width="0.85" fill="none" stroke-linejoin="miter"/>
<polygon points="420.66,71.53 424.36,77.94 416.96,77.94" stroke="#CD9600" stroke-width="0.85" fill="none" stroke-linejoin="miter"/>
<polygon points="433.92,61.96 437.62,68.38 430.22,68.38" stroke="#CD9600" stroke-width="0.85" fill="none" stroke-linejoin="miter"/>
<polygon points="447.18,52.44 450.88,58.86 443.48,58.86" stroke="#CD9600" stroke-width="0.85" fill="none" stroke-linejoin="miter"/>
<polygon points="460.44,42.97 464.14,49.38 456.74,49.38" stroke="#CD9600" stroke-width="0.85" fill="none" stroke-linejoin="miter"/>
<polygon points="473.70,33.54 477.40,39.95 470.00,39.95" stroke="#CD9600" stroke-width="0.85" fill="none" stroke-linejoin="miter"/>
<polygon points="486.96,24.15 490.66,30.57 483.25,30.57" stroke="#CD9600" stroke-width="0.85" fill="none" stroke-linejoin="miter"/>
<polygon points="500.22,14.81 503.92,21.22 496.51,21.22" stroke="#CD9600" stroke-width="0.85" fill="none" stroke-linejoin="miter"/>
<path d="M310.69 154.40H318.47M314.58 150.52V158.29" stroke="#7CAE00" stroke-width="0.85" fill="none"/>
<path d="M323.95 144.21H331.73M327.84 140.32V148.10" stroke="#7CAE00" stroke-width="0.85" fill="none"/>
<path d="M337.21 134.63H344.99M341.10 130.74V138.52" stroke="#7CAE00" stroke-width="0.85" fill="none"/>
<path d="M350.47 125.32H358.25M354.36 121.43V129.21" stroke="#7CAE00" stroke-width="0.85" fill="none"/>
<path d="M363.73 116.23H371.51M367.62 112.34V120.12" stroke="#7CAE00" stroke-width="0.85" fill="none"/>
<path d="M376.99 107.37H384.77M380.88 103.49V111.26" stroke="#7CAE00" stroke-width="0.85" fill="none"/>
<path d="M390.25 98.74H398.03M394.14 94.85V102.63" stroke="#7CAE00" stroke-width="0.85" fill="none"/>
<path d="M403.51 90.33H411.29M407.40 86.44V94.22" stroke="#7CAE00" stroke-width="0.85" fill="none"/>
<path d="M416.77 82.15H424.55M420.66 78.26V86.04" stroke="#7CAE00" stroke-width="0.85" fill="none"/>
<path d="M430.03 74.19H437.81M433.92 70.30V78.08" stroke="#7CAE00" stroke-width="0.85" fill="none"/>
<path d="M443.29 66.45H451.07M447.18 62.57V70.34" stroke="#7CAE00" stroke-width="0.85" fill="none"/>
<path d="M456.55 58.94H464.33M460.44 55.05V62.83" stroke="#7CAE00" stroke-width="0.85" fill="none"/>
<path d="M469.81 51.66H477.59M473.70 47.77V55.54" stroke="#7CAE00" stroke-width="0.85" fill="none"/>
<path d="M483.07 44.59H490.85M486.96 40.70V48.48" stroke="#7CAE00" stroke-width="0.85" fill="none"/>
<path d="M496.33 37.75H504.11M500.22 33.86V41.64" stroke="#7CAE00" stroke-width="0.85" fill="none"/>
<path d="M311.83 151.65L317.33 157.15M311.83 157.15L317.33 151.65" stroke="#00BE67" stroke-width="0.85" fill="none"/>
<path d="M325.09 141.67L330.59 147.17M325.09 147.17L330.59 141.67" stroke="#00BE67" stroke-width="0.85" fill="none"/>
<path d="M338.35 132.54L343.85 138.04M338.35 138.04L343.85 132.54" stroke="#00BE67" stroke-width="0.85" fill="none"/>
<path d="M351.61 123.90L357.11 129.40M351.61 129.40L357.11 123.90" stroke="#00BE67" stroke-width="0.85" fill="none"/>
<path d="M364.87 115.72L370.37 121.22M364.87 121.22L370.37 115.72" stroke="#00BE67" stroke-width="0.85" fill="none"/>
<path d="M378.13 108.00L383.63 113.50M378.13 113.50L383.63 108.00" stroke="#00BE67" stroke-width="0.85" fill="none"/>
<path d="M391.39 100.74L396.89 106.24M391.39 106.24L396.89 100.74" stroke="#00BE67" stroke-width="0.85" fill="none"/>
<path d="M404.65 93.93L410.15 99.43M404.65 99.43L410.15 93.93" stroke="#00BE67" stroke-width="0.85" fill="none"/>
<path d="M417.91 87.57L423.41 93.07M417.91 93.07L423.41 87.57" stroke="#00BE67" stroke-width="0.85" fill="none"/>
<path d="M431.17 81.65L436.67 87.15M431.17 87.15L436.67 81.65" stroke="#00BE67" stroke-width="0.85" fill="none"/>
<path d="M444.43 76.19L449.93 81.69M444.43 81.69L449.93 76.19" stroke="#00BE67" stroke-width="0.85" fill="none"/>
<path d="M457.69 71.16L463.19 76.66M457.69 76.66L463.19 71.16" stroke="#00BE67" stroke-width="0.85" fill="none"/>
<path d="M470.95 66.57L476.45 72.07M470.95 72.07L476.45 66.57" stroke="#00BE67" stroke-width="0.85" fill="none"/>
<path d="M484.21 62.41L489.71 67.91M484.21 67.91L489.71 62.41" stroke="#00BE67" stroke-width="0.85" fill="none"/>
<path d="M497.47 58.68L502.97 64.18M497.47 64.18L502.97 58.68" stroke="#00BE67" stroke-width="0.85" fill="none"/>
<path d="M310.69 154.40L314.58 150.52L318.47 154.40L314.58 158.29Z" stroke="#00BFC4" stroke-width="0.85" fill="none"/>
<path d="M323.95 144.65L327.84 140.76L331.73 144.65L327.84 148.54Z" stroke="#00BFC4" stroke-width="0.85" fill="none"/>
<path d="M337.21 135.97L341.10 132.08L344.99 135.97L341.10 139.86Z" stroke="#00BFC4" stroke-width="0.85" fill="none"/>
<path d="M350.47 128.04L354.36 124.15L358.25 128.04L354.36 131.93Z" stroke="#00BFC4" stroke-width="0.85" fill="none"/>
<path d="M363.73 120.80L367.62 116.91L371.51 120.80L367.62 124.69Z" stroke="#00BFC4" stroke-width="0.85" fill="none"/>
<path d="M376.99 114.25L380.88 110.36L384.77 114.25L380.88 118.14Z" stroke="#00BFC4" stroke-width="0.85" fill="none"/>
<path d="M390.25 108.39L394.14 104.50L398.03 108.39L394.14 112.28Z" stroke="#00BFC4" stroke-width="0.85" fill="none"/>
<path d="M403.51 103.19L407.40 99.30L411.29 103.19L407.40 107.08Z" stroke="#00BFC4" stroke-width="0.85" fill="none"/>
<path d="M416.77 98.65L420.66 94.76L424.55 98.65L420.66 102.54Z" stroke="#00BFC4" stroke-width="0.85" fill="none"/>
<path d="M430.03 94.76L433.92 90.87L437.81 94.76L433.92 98.65Z" stroke="#00BFC4" stroke-width="0.85" fill="none"/>
<path d="M443.29 91.49L447.18 87.60L451.07 91.49L447.18 95.38Z" stroke="#00BFC4" stroke-width="0.85" fill="none"/>
<path d="M456.55 88.81L460.44 84.92L464.33 88.81L460.44 92.70Z" stroke="#00BFC4" stroke-width="0.85" fill="none"/>
<path d="M469.81 86.70L473.70 82.81L477.59 86.70L473.70 90.59Z" stroke="#00BFC4" stroke-width="0.85" fill="none"/>
<path d="M483.07 85.10L486.96 81.21L490.85 85.10L486.96 88.99Z" stroke="#00BFC4" stroke-width="0.85" fill="none"/>
<path d="M496.33 83.95L500.22 80.06L504.11 83.95L500.22 87.84Z" stroke="#00BFC4" stroke-width="0.85" fill="none"/>
<polygon points="314.58,158.68 318.29,152.27 310.88,152.27" stroke="#00A9FF" stroke-width="0.85" fill="none" stroke-linejoin="miter"/>
<polygon points="327.84,149.16 331.55,142.75 324.14,142.75" stroke="#00A9FF" stroke-width="0.85" fill="none" stroke-linejoin="miter"/>
<polygon points="341.10,140.97 344.80,134.56 337.40,134.56" stroke="#00A9FF" stroke-width="0.85" fill="none" stroke-linejoin="miter"/>
<polygon points="354.36,133.76 358.06,127.35 350.66,127.35" stroke="#00A9FF" stroke-width="0.85" fill="none" stroke-linejoin="miter"/>
<polygon points="367.62,127.49 371.32,121.08 363.92,121.08" stroke="#00A9FF" stroke-width="0.85" fill="none" stroke-linejoin="miter"/>
<polygon points="380.88,122.13 384.58,115.72 377.18,115.72" stroke="#00A9FF" stroke-width="0.85" fill="none" stroke-linejoin="miter"/>
<polygon points="394.14,117.66 397.84,111.24 390.44,111.24" stroke="#00A9FF" stroke-width="0.85" fill="none" stroke-linejoin="miter"/>
<polygon points="407.40,114.04 411.10,107.62 403.70,107.62" stroke="#00A9FF" stroke-width="0.85" fill="none" stroke-linejoin="miter"/>
<polygon points="420.66,111.22 424.36,104.80 416.96,104.80" stroke="#00A9FF" stroke-width="0.85" fill="none" stroke-linejoin="miter"/>
<polygon points="433.92,109.14 437.62,102.72 430.22,102.72" stroke="#00A9FF" stroke-width="0.85" fill="none" stroke-linejoin="miter"/>
<polygon points="447.18,107.70 450.88,101.29 443.48,101.29" stroke="#00A9FF" stroke-width="0.85" fill="none" stroke-linejoin="miter"/>
<polygon points="460.44,106.80 464.14,100.39 456.74,100.39" stroke="#00A9FF" stroke-width="0.85" fill="none" stroke-linejoin="miter"/>
<polygon points="473.70,106.30 477.40,99.89 470.00,99.89" stroke="#00A9FF" stroke-width="0.85" fill="none" stroke-linejoin="miter"/>
<polygon points="486.96,106.06 490.66,99.64 483.25,99.64" stroke="#00A9FF" stroke-width="0.85" fill="none" stroke-linejoin="miter"/>
<polygon points="500.22,105.96 503.92,99.55 496.51,99.55" stroke="#00A9FF" stroke-width="0.85" fill="none" stroke-linejoin="miter"/>
<path d="M311.83 151.65H317.33V157.15H311.83ZM311.83 151.65L317.33 157.15M311.83 157.15L317.33 151.65" stroke="#C77CFF" stroke-width="0.85" fill="none"/>
<path d="M325.09 142.54H330.59V148.04H325.09ZM325.09 142.54L330.59 148.04M325.09 148.04L330.59 142.54" stroke="#C77CFF" stroke-width="0.85" fill="none"/>
<path d="M338.35 135.14H343.85V140.64H338.35ZM338.35 135.14L343.85 140.64M338.35 140.64L343.85 135.14" stroke="#C77CFF" stroke-width="0.85" fill="none"/>
<path d="M351.61 129.12H357.11V134.62H351.61ZM351.61 129.12L357.11 134.62M351.61 134.62L357.11 129.12" stroke="#C77CFF" stroke-width="0.85" fill="none"/>
<path d="M364.87 124.38H370.37V129.88H364.87ZM364.87 124.38L370.37 129.88M364.87 129.88L370.37 124.38" stroke="#C77CFF" stroke-width="0.85" fill="none"/>
<path d="M378.13 120.84H383.63V126.34H378.13ZM378.13 120.84L383.63 126.34M378.13 126.34L383.63 120.84" stroke="#C77CFF" stroke-width="0.85" fill="none"/>
<path d="M391.39 118.38H396.89V123.88H391.39ZM391.39 118.38L396.89 123.88M391.39 123.88L396.89 118.38" stroke="#C77CFF" stroke-width="0.85" fill="none"/>
<path d="M404.65 116.85H410.15V122.35H404.65ZM404.65 116.85L410.15 122.35M404.65 122.35L410.15 116.85" stroke="#C77CFF" stroke-width="0.85" fill="none"/>
<path d="M417.91 116.03H423.41V121.53H417.91ZM417.91 116.03L423.41 121.53M417.91 121.53L423.41 116.03" stroke="#C77CFF" stroke-width="0.85" fill="none"/>
<path d="M431.17 115.66H436.67V121.16H431.17ZM431.17 115.66L436.67 121.16M431.17 121.16L436.67 115.66" stroke="#C77CFF" stroke-width="0.85" fill="none"/>
<path d="M444.43 115.53H449.93V121.03H444.43ZM444.43 115.53L449.93 121.03M444.43 121.03L449.93 115.53" stroke="#C77CFF" stroke-width="0.85" fill="none"/>
<path d="M457.69 115.50H463.19V121.00H457.69ZM457.69 115.50L463.19 121.00M457.69 121.00L463.19 115.50" stroke="#C77CFF" stroke-width="0.85" fill="none"/>
<path d="M470.95 115.50H476.45V121.00H470.95ZM470.95 115.50L476.45 121.00M470.95 121.00L476.45 115.50" stroke="#C77CFF" stroke-width="0.85" fill="none"/>
<path d="M484.21 115.49H489.71V120.99H484.21ZM484.21 115.49L489.71 120.99M484.21 120.99L489.71 115.49" stroke="#C77CFF" stroke-width="0.85" fill="none"/>
<path d="M497.47 115.49H502.97V120.99H497.47ZM497.47 115.49L502.97 120.99M497.47 120.99L502.97 115.49" stroke="#C77CFF" stroke-width="0.85" fill="none"/>
<path d="M311.83 151.65L317.33 157.15M311.83 157.15L317.33 151.65M310.69 154.40H318.47M314.58 150.52V158.29" stroke="#FF61CC" stroke-width="0.85" fill="none"/>
<path d="M325.09 143.16L330.59 148.66M325.09 148.66L330.59 143.16M323.95 145.91H331.73M327.84 142.02V149.80" stroke="#FF61CC" stroke-width="0.85" fill="none"/>
<path d="M338.35 136.98L343.85 142.48M338.35 142.48L343.85 136.98M337.21 139.73H344.99M341.10 135.84V143.62" stroke="#FF61CC" stroke-width="0.85" fill="none"/>
<path d="M351.61 132.67L357.11 138.17M351.61 138.17L357.11 132.67M350.47 135.42H358.25M354.36 131.53V139.31" stroke="#FF61CC" stroke-width="0.85" fill="none"/>
<path d="M364.87 129.99L370.37 135.49M364.87 135.49L370.37 129.99M363.73 132.74H371.51M367.62 128.85V136.62" stroke="#FF61CC" stroke-width="0.85" fill="none"/>
<path d="M378.13 128.58L383.63 134.08M378.13 134.08L383.63 128.58M376.99 131.33H384.77M380.88 127.44V135.22" stroke="#FF61CC" stroke-width="0.85" fill="none"/>
<path d="M391.39 128.01L396.89 133.51M391.39 133.51L396.89 128.01M390.25 130.76H398.03M394.14 126.87V134.65" stroke="#FF61CC" stroke-width="0.85" fill="none"/>
<path d="M404.65 127.85L410.15 133.35M404.65 133.35L410.15 127.85M403.51 130.60H411.29M407.40 126.71V134.49" stroke="#FF61CC" stroke-width="0.85" fill="none"/>
<path d="M417.91 127.82L423.41 133.32M417.91 133.32L423.41 127.82M416.77 130.57H424.55M420.66 126.68V134.46" stroke="#FF61CC" stroke-width="0.85" fill="none"/>
<path d="M431.17 127.82L436.67 133.32M431.17 133.32L436.67 127.82M430.03 130.57H437.81M433.92 126.68V134.45" stroke="#FF61CC" stroke-width="0.85" fill="none"/>
<path d="M444.43 127.81L449.93 133.31M444.43 133.31L449.93 127.81M443.29 130.56H451.07M447.18 126.68V134.45" stroke="#FF61CC" stroke-width="0.85" fill="none"/>
<path d="M457.69 127.81L463.19 133.31M457.69 133.31L463.19 127.81M456.55 130.56H464.33M460.44 126.68V134.45" stroke="#FF61CC" stroke-width="0.85" fill="none"/>
<path d="M470.95 127.81L476.45 133.31M470.95 133.31L476.45 127.81M469.81 130.56H477.59M473.70 126.68V134.45" stroke="#FF61CC" stroke-width="0.85" fill="none"/>
<path d="M484.21 127.81L489.71 133.31M484.21 133.31L489.71 127.81M483.07 130.56H490.85M486.96 126.68V134.45" stroke="#FF61CC" stroke-width="0.85" fill="none"/>
<path d="M497.47 127.81L502.97 133.31M497.47 133.31L502.97 127.81M496.33 130.56H504.11M500.22 126.68V134.45" stroke="#FF61CC" stroke-width="0.85" fill="none"/>
<rect x="305.30" y="7.50" width="204.20" height="153.90" fill="none" stroke="#474747" stroke-width="1"/>
<g stroke="#333333" stroke-width="1.1">
<line x1="314.58" y1="161.40" x2="314.58" y2="165.40"/>
<line x1="327.84" y1="161.40" x2="327.84" y2="165.40"/>
<line x1="341.10" y1="161.40" x2="341.10" y2="165.40"/>
<line x1="354.36" y1="161.40" x2="354.36" y2="165.40"/>
<line x1="367.62" y1="161.40" x2="367.62" y2="165.40"/>
<line x1="380.88" y1="161.40" x2="380.88" y2="165.40"/>
<line x1="394.14" y1="161.40" x2="394.14" y2="165.40"/>
<line x1="407.40" y1="161.40" x2="407.40" y2="165.40"/>
<line x1="420.66" y1="161.40" x2="420.66" y2="165.40"/>
<line x1="433.92" y1="161.40" x2="433.92" y2="165.40"/>
<line x1="447.18" y1="161.40" x2="447.18" y2="165.40"/>
<line x1="460.44" y1="161.40" x2="460.44" y2="165.40"/>
<line x1="473.70" y1="161.40" x2="473.70" y2="165.40"/>
<line x1="486.96" y1="161.40" x2="486.96" y2="165.40"/>
<line x1="500.22" y1="161.40" x2="500.22" y2="165.40"/>
<line x1="301.30" y1="154.18" x2="305.30" y2="154.18"/>
<line x1="301.30" y1="133.81" x2="305.30" y2="133.81"/>
<line x1="301.30" y1="113.44" x2="305.30" y2="113.44"/>
<line x1="301.30" y1="93.07" x2="305.30" y2="93.07"/>
<line x1="301.30" y1="72.70" x2="305.30" y2="72.70"/>
<line x1="301.30" y1="52.33" x2="305.30" y2="52.33"/>
<line x1="301.30" y1="31.95" x2="305.30" y2="31.95"/>
<line x1="301.30" y1="11.58" x2="305.30" y2="11.58"/>
</g>
<g fill="#4D4D4D" font-size="9.1" text-anchor="middle">
<text x="314.58" y="174.80">1</text>
<text x="327.84" y="174.80">2</text>
<text x="341.10" y="174.80">3</text>
<text x="354.36" y="174.80">4</text>
<text x="367.62" y="174.80">5</text>
<text x="380.88" y="174.80">6</text>
<text x="394.14" y="174.80">7</text>
<text x="407.40" y="174.80">8</text>
<text x="420.66" y="174.80">9</text>
<text x="433.92" y="174.80">10</text>
<text x="447.18" y="174.80">11</text>
<text x="460.44" y="174.80">12</text>
<text x="473.70" y="174.80">13</text>
<text x="486.96" y="174.80">14</text>
<text x="500.22" y="174.80">15</text>
</g>
<g fill="#4D4D4D" font-size="8.6" text-anchor="end">
<text x="297.50" y="158.78">10<tspan font-size="5.8" dy="-4.3">1</tspan></text>
<text x="297.50" y="138.41">10<tspan font-size="5.8" dy="-4.3">3</tspan></text>
<text x="297.50" y="118.04">10<tspan font-size="5.8" dy="-4.3">5</tspan></text>
<text x="297.50" y="97.67">10<tspan font-size="5.8" dy="-4.3">7</tspan></text>
<text x="297.50" y="77.30">10<tspan font-size="5.8" dy="-4.3">9</tspan></text>
<text x="297.50" y="56.93">10<tspan font-size="5.8" dy="-4.3">11</tspan></text>
<text x="297.50" y="36.55">10<tspan font-size="5.8" dy="-4.3">13</tspan></text>
<text x="297.50" y="16.18">10<tspan font-size="5.8" dy="-4.3">15</tspan></text>
</g>
<text x="263.30" y="10.10" font-size="8.8" font-weight="bold">B</text>
<text transform="translate(275.20,85.35) rotate(-90)" font-size="10.0" text-anchor="middle"><tspan font-style="italic">F</tspan>(<tspan font-style="italic">R</tspan><tspan font-size="7.00" dy="1.8">0</tspan><tspan dy="-1.8" dx="1.3">=</tspan><tspan dx="1.3">9.5,</tspan><tspan dx="1" font-style="italic">k</tspan><tspan>;</tspan><tspan dx="1" font-style="italic">m</tspan>)</text>
<g stroke="#EBEBEB" stroke-width="0.9">
<line x1="56.68" y1="192.60" x2="56.68" y2="346.40"/>
<line x1="69.93" y1="192.60" x2="69.93" y2="346.40"/>
<line x1="83.18" y1="192.60" x2="83.18" y2="346.40"/>
<line x1="96.44" y1="192.60" x2="96.44" y2="346.40"/>
<line x1="109.69" y1="192.60" x2="109.69" y2="346.40"/>
<line x1="122.94" y1="192.60" x2="122.94" y2="346.40"/>
<line x1="136.20" y1="192.60" x2="136.20" y2="346.40"/>
<line x1="149.45" y1="192.60" x2="149.45" y2="346.40"/>
<line x1="162.70" y1="192.60" x2="162.70" y2="346.40"/>
<line x1="175.96" y1="192.60" x2="175.96" y2="346.40"/>
<line x1="189.21" y1="192.60" x2="189.21" y2="346.40"/>
<line x1="202.46" y1="192.60" x2="202.46" y2="346.40"/>
<line x1="215.72" y1="192.60" x2="215.72" y2="346.40"/>
<line x1="228.97" y1="192.60" x2="228.97" y2="346.40"/>
<line x1="242.22" y1="192.60" x2="242.22" y2="346.40"/>
<line x1="47.40" y1="337.13" x2="251.50" y2="337.13"/>
<line x1="47.40" y1="312.71" x2="251.50" y2="312.71"/>
<line x1="47.40" y1="288.29" x2="251.50" y2="288.29"/>
<line x1="47.40" y1="263.88" x2="251.50" y2="263.88"/>
<line x1="47.40" y1="239.46" x2="251.50" y2="239.46"/>
<line x1="47.40" y1="215.05" x2="251.50" y2="215.05"/>
</g>
<path d="M56.68 339.41C61.10 335.85 65.51 332.18 69.93 328.73C74.35 325.27 78.77 322.02 83.18 318.70C87.60 315.37 92.02 312.07 96.44 308.76C100.85 305.44 105.27 302.14 109.69 298.83C114.11 295.52 118.53 292.21 122.94 288.90C127.36 285.60 131.78 282.29 136.20 278.98C140.61 275.67 145.03 272.37 149.45 269.06C153.87 265.75 158.29 262.44 162.70 259.13C167.12 255.83 171.54 252.52 175.96 249.21C180.37 245.90 184.79 242.59 189.21 239.29C193.63 235.98 198.05 232.67 202.46 229.36C206.88 226.05 211.30 222.75 215.72 219.44C220.13 216.13 224.55 212.82 228.97 209.51C233.39 206.21 237.80 202.90 242.22 199.59" fill="none" stroke="#F8766D" stroke-width="1.5" stroke-linejoin="round"/>
<path d="M56.68 339.41C61.10 335.86 65.51 332.20 69.93 328.77C74.35 325.34 78.77 322.13 83.18 318.84C87.60 315.55 92.02 312.30 96.44 309.05C100.85 305.79 105.27 302.56 109.69 299.32C114.11 296.09 118.53 292.87 122.94 289.66C127.36 286.44 131.78 283.24 136.20 280.04C140.61 276.85 145.03 273.66 149.45 270.48C153.87 267.30 158.29 264.13 162.70 260.97C167.12 257.81 171.54 254.66 175.96 251.52C180.37 248.37 184.79 245.24 189.21 242.12C193.63 238.99 198.05 235.87 202.46 232.77C206.88 229.66 211.30 226.56 215.72 223.47C220.13 220.38 224.55 217.30 228.97 214.23C233.39 211.16 237.80 208.10 242.22 205.04" fill="none" stroke="#CD9600" stroke-width="1.5" stroke-linejoin="round"/>
<path d="M56.68 339.41C61.10 335.93 65.51 332.29 69.93 328.96C74.35 325.63 78.77 322.54 83.18 319.42C87.60 316.30 92.02 313.25 96.44 310.24C100.85 307.22 105.27 304.26 109.69 301.34C114.11 298.42 118.53 295.54 122.94 292.71C127.36 289.88 131.78 287.09 136.20 284.35C140.61 281.61 145.03 278.91 149.45 276.26C153.87 273.61 158.29 271.00 162.70 268.43C167.12 265.87 171.54 263.35 175.96 260.88C180.37 258.40 184.79 255.97 189.21 253.58C193.63 251.20 198.05 248.86 202.46 246.56C206.88 244.26 211.30 242.01 215.72 239.80C220.13 237.59 224.55 235.42 228.97 233.30C233.39 231.18 237.80 229.15 242.22 227.07" fill="none" stroke="#7CAE00" stroke-width="1.5" stroke-linejoin="round"/>
<path d="M56.68 339.41C61.10 336.01 65.51 332.41 69.93 329.21C74.35 326.00 78.77 323.08 83.18 320.17C87.60 317.27 92.02 314.48 96.44 311.77C100.85 309.07 105.27 306.45 109.69 303.93C114.11 301.41 118.53 298.97 122.94 296.63C127.36 294.28 131.78 292.03 136.20 289.86C140.61 287.70 145.03 285.62 149.45 283.63C153.87 281.64 158.29 279.74 162.70 277.92C167.12 276.10 171.54 274.38 175.96 272.73C180.37 271.09 184.79 269.53 189.21 268.06C193.63 266.59 198.05 265.20 202.46 263.89C206.88 262.58 211.30 261.36 215.72 260.22C220.13 259.07 224.55 258.01 228.97 257.03C233.39 256.04 237.80 255.21 242.22 254.30" fill="none" stroke="#00BE67" stroke-width="1.5" stroke-linejoin="round"/>
<path d="M56.68 339.41C61.10 336.09 65.51 332.54 69.93 329.46C74.35 326.39 78.77 323.64 83.18 320.96C87.60 318.27 92.02 315.76 96.44 313.36C100.85 310.97 105.27 308.72 109.69 306.60C114.11 304.47 118.53 302.49 122.94 300.63C127.36 298.78 131.78 297.05 136.20 295.46C140.61 293.86 145.03 292.39 149.45 291.04C153.87 289.69 158.29 288.47 162.70 287.36C167.12 286.26 171.54 285.27 175.96 284.39C180.37 283.51 184.79 282.74 189.21 282.07C193.63 281.39 198.05 280.83 202.46 280.34C206.88 279.85 211.30 279.46 215.72 279.12C220.13 278.79 224.55 278.54 228.97 278.33C233.39 278.12 237.80 278.02 242.22 277.86" fill="none" stroke="#00BFC4" stroke-width="1.5" stroke-linejoin="round"/>
<path d="M56.68 339.41C61.10 336.18 65.51 332.67 69.93 329.74C74.35 326.80 78.77 324.23 83.18 321.77C87.60 319.32 92.02 317.08 96.44 315.00C100.85 312.93 105.27 311.04 109.69 309.32C114.11 307.60 118.53 306.06 122.94 304.68C127.36 303.30 131.78 302.09 136.20 301.02C140.61 299.95 145.03 299.05 149.45 298.27C153.87 297.49 158.29 296.87 162.70 296.33C167.12 295.80 171.54 295.41 175.96 295.08C180.37 294.75 184.79 294.53 189.21 294.35C193.63 294.17 198.05 294.07 202.46 293.98C206.88 293.90 211.30 293.86 215.72 293.83C220.13 293.79 224.55 293.78 228.97 293.77C233.39 293.76 237.80 293.76 242.22 293.76" fill="none" stroke="#00A9FF" stroke-width="1.5" stroke-linejoin="round"/>
<path d="M56.68 339.41C61.10 336.34 65.51 332.90 69.93 330.19C74.35 327.47 78.77 325.21 83.18 323.12C87.60 321.03 92.02 319.24 96.44 317.66C100.85 316.08 105.27 314.76 109.69 313.64C114.11 312.51 118.53 311.63 122.94 310.89C127.36 310.15 131.78 309.64 136.20 309.21C140.61 308.79 145.03 308.54 149.45 308.33C153.87 308.13 158.29 308.04 162.70 307.96C167.12 307.88 171.54 307.86 175.96 307.84C180.37 307.82 184.79 307.81 189.21 307.81C193.63 307.80 198.05 307.80 202.46 307.80C206.88 307.80 211.30 307.80 215.72 307.80C220.13 307.80 224.55 307.80 228.97 307.80C233.39 307.80 237.80 307.80 242.22 307.80" fill="none" stroke="#C77CFF" stroke-width="1.5" stroke-linejoin="round"/>
<path d="M56.68 339.41C61.10 336.57 65.51 333.27 69.93 330.89C74.35 328.52 78.77 326.72 83.18 325.15C87.60 323.59 92.02 322.44 96.44 321.50C100.85 320.56 105.27 319.99 109.69 319.51C114.11 319.03 118.53 318.83 122.94 318.65C127.36 318.47 131.78 318.42 136.20 318.38C140.61 318.35 145.03 318.33 149.45 318.33C153.87 318.32 158.29 318.32 162.70 318.32C167.12 318.32 171.54 318.32 175.96 318.32C180.37 318.32 184.79 318.32 189.21 318.32C193.63 318.32 198.05 318.32 202.46 318.32C206.88 318.32 211.30 318.32 215.72 318.32C220.13 318.32 224.55 318.32 228.97 318.32C233.39 318.32 237.80 318.32 242.22 318.32" fill="none" stroke="#FF61CC" stroke-width="1.5" stroke-linejoin="round"/>
<circle cx="56.68" cy="339.41" r="2.75" stroke="#F8766D" stroke-width="0.85" fill="none"/>
<circle cx="69.93" cy="328.73" r="2.75" stroke="#F8766D" stroke-width="0.85" fill="none"/>
<circle cx="83.18" cy="318.70" r="2.75" stroke="#F8766D" stroke-width="0.85" fill="none"/>
<circle cx="96.44" cy="308.76" r="2.75" stroke="#F8766D" stroke-width="0.85" fill="none"/>
<circle cx="109.69" cy="298.83" r="2.75" stroke="#F8766D" stroke-width="0.85" fill="none"/>
<circle cx="122.94" cy="288.90" r="2.75" stroke="#F8766D" stroke-width="0.85" fill="none"/>
<circle cx="136.20" cy="278.98" r="2.75" stroke="#F8766D" stroke-width="0.85" fill="none"/>
<circle cx="149.45" cy="269.06" r="2.75" stroke="#F8766D" stroke-width="0.85" fill="none"/>
<circle cx="162.70" cy="259.13" r="2.75" stroke="#F8766D" stroke-width="0.85" fill="none"/>
<circle cx="175.96" cy="249.21" r="2.75" stroke="#F8766D" stroke-width="0.85" fill="none"/>
<circle cx="189.21" cy="239.29" r="2.75" stroke="#F8766D" stroke-width="0.85" fill="none"/>
<circle cx="202.46" cy="229.36" r="2.75" stroke="#F8766D" stroke-width="0.85" fill="none"/>
<circle cx="215.72" cy="219.44" r="2.75" stroke="#F8766D" stroke-width="0.85" fill="none"/>
<circle cx="228.97" cy="209.51" r="2.75" stroke="#F8766D" stroke-width="0.85" fill="none"/>
<circle cx="242.22" cy="199.59" r="2.75" stroke="#F8766D" stroke-width="0.85" fill="none"/>
<polygon points="56.68,335.13 60.38,341.55 52.97,341.55" stroke="#CD9600" stroke-width="0.85" fill="none" stroke-linejoin="miter"/>
<polygon points="69.93,324.50 73.63,330.91 66.23,330.91" stroke="#CD9600" stroke-width="0.85" fill="none" stroke-linejoin="miter"/>
<polygon points="83.18,314.56 86.89,320.98 79.48,320.98" stroke="#CD9600" stroke-width="0.85" fill="none" stroke-linejoin="miter"/>
<polygon points="96.44,304.77 100.14,311.19 92.73,311.19" stroke="#CD9600" stroke-width="0.85" fill="none" stroke-linejoin="miter"/>
<polygon points="109.69,295.05 113.39,301.46 105.99,301.46" stroke="#CD9600" stroke-width="0.85" fill="none" stroke-linejoin="miter"/>
<polygon points="122.94,285.38 126.65,291.79 119.24,291.79" stroke="#CD9600" stroke-width="0.85" fill="none" stroke-linejoin="miter"/>
<polygon points="136.20,275.77 139.90,282.18 132.49,282.18" stroke="#CD9600" stroke-width="0.85" fill="none" stroke-linejoin="miter"/>
<polygon points="149.45,266.20 153.15,272.62 145.75,272.62" stroke="#CD9600" stroke-width="0.85" fill="none" stroke-linejoin="miter"/>
<polygon points="162.70,256.70 166.41,263.11 159.00,263.11" stroke="#CD9600" stroke-width="0.85" fill="none" stroke-linejoin="miter"/>
<polygon points="175.96,247.24 179.66,253.66 172.25,253.66" stroke="#CD9600" stroke-width="0.85" fill="none" stroke-linejoin="miter"/>
<polygon points="189.21,237.84 192.91,244.25 185.51,244.25" stroke="#CD9600" stroke-width="0.85" fill="none" stroke-linejoin="miter"/>
<polygon points="202.46,228.49 206.17,234.91 198.76,234.91" stroke="#CD9600" stroke-width="0.85" fill="none" stroke-linejoin="miter"/>
<polygon points="215.72,219.20 219.42,225.61 212.01,225.61" stroke="#CD9600" stroke-width="0.85" fill="none" stroke-linejoin="miter"/>
<polygon points="228.97,209.95 232.67,216.37 225.27,216.37" stroke="#CD9600" stroke-width="0.85" fill="none" stroke-linejoin="miter"/>
<polygon points="242.22,200.76 245.93,207.18 238.52,207.18" stroke="#CD9600" stroke-width="0.85" fill="none" stroke-linejoin="miter"/>
<path d="M52.79 339.41H60.57M56.68 335.52V343.30" stroke="#7CAE00" stroke-width="0.85" fill="none"/>
<path d="M66.04 328.96H73.82M69.93 325.07V332.85" stroke="#7CAE00" stroke-width="0.85" fill="none"/>
<path d="M79.29 319.42H87.07M83.18 315.53V323.31" stroke="#7CAE00" stroke-width="0.85" fill="none"/>
<path d="M92.55 310.24H100.33M96.44 306.35V314.13" stroke="#7CAE00" stroke-width="0.85" fill="none"/>
<path d="M105.80 301.34H113.58M109.69 297.45V305.23" stroke="#7CAE00" stroke-width="0.85" fill="none"/>
<path d="M119.05 292.71H126.83M122.94 288.82V296.60" stroke="#7CAE00" stroke-width="0.85" fill="none"/>
<path d="M132.31 284.35H140.09M136.20 280.46V288.24" stroke="#7CAE00" stroke-width="0.85" fill="none"/>
<path d="M145.56 276.26H153.34M149.45 272.37V280.15" stroke="#7CAE00" stroke-width="0.85" fill="none"/>
<path d="M158.81 268.43H166.59M162.70 264.54V272.32" stroke="#7CAE00" stroke-width="0.85" fill="none"/>
<path d="M172.07 260.88H179.85M175.96 256.99V264.76" stroke="#7CAE00" stroke-width="0.85" fill="none"/>
<path d="M185.32 253.58H193.10M189.21 249.69V257.47" stroke="#7CAE00" stroke-width="0.85" fill="none"/>
<path d="M198.57 246.56H206.35M202.46 242.67V250.45" stroke="#7CAE00" stroke-width="0.85" fill="none"/>
<path d="M211.83 239.80H219.61M215.72 235.91V243.69" stroke="#7CAE00" stroke-width="0.85" fill="none"/>
<path d="M225.08 233.30H232.86M228.97 229.41V237.19" stroke="#7CAE00" stroke-width="0.85" fill="none"/>
<path d="M238.33 227.07H246.11M242.22 223.18V230.96" stroke="#7CAE00" stroke-width="0.85" fill="none"/>
<path d="M53.93 336.66L59.43 342.16M53.93 342.16L59.43 336.66" stroke="#00BE67" stroke-width="0.85" fill="none"/>
<path d="M67.18 326.46L72.68 331.96M67.18 331.96L72.68 326.46" stroke="#00BE67" stroke-width="0.85" fill="none"/>
<path d="M80.43 317.42L85.93 322.92M80.43 322.92L85.93 317.42" stroke="#00BE67" stroke-width="0.85" fill="none"/>
<path d="M93.69 309.02L99.19 314.52M93.69 314.52L99.19 309.02" stroke="#00BE67" stroke-width="0.85" fill="none"/>
<path d="M106.94 301.18L112.44 306.68M106.94 306.68L112.44 301.18" stroke="#00BE67" stroke-width="0.85" fill="none"/>
<path d="M120.19 293.88L125.69 299.38M120.19 299.38L125.69 293.88" stroke="#00BE67" stroke-width="0.85" fill="none"/>
<path d="M133.45 287.11L138.95 292.61M133.45 292.61L138.95 287.11" stroke="#00BE67" stroke-width="0.85" fill="none"/>
<path d="M146.70 280.88L152.20 286.38M146.70 286.38L152.20 280.88" stroke="#00BE67" stroke-width="0.85" fill="none"/>
<path d="M159.95 275.17L165.45 280.67M159.95 280.67L165.45 275.17" stroke="#00BE67" stroke-width="0.85" fill="none"/>
<path d="M173.21 269.98L178.71 275.48M173.21 275.48L178.71 269.98" stroke="#00BE67" stroke-width="0.85" fill="none"/>
<path d="M186.46 265.31L191.96 270.81M186.46 270.81L191.96 265.31" stroke="#00BE67" stroke-width="0.85" fill="none"/>
<path d="M199.71 261.14L205.21 266.64M199.71 266.64L205.21 261.14" stroke="#00BE67" stroke-width="0.85" fill="none"/>
<path d="M212.97 257.47L218.47 262.97M212.97 262.97L218.47 257.47" stroke="#00BE67" stroke-width="0.85" fill="none"/>
<path d="M226.22 254.28L231.72 259.78M226.22 259.78L231.72 254.28" stroke="#00BE67" stroke-width="0.85" fill="none"/>
<path d="M239.47 251.55L244.97 257.05M239.47 257.05L244.97 251.55" stroke="#00BE67" stroke-width="0.85" fill="none"/>
<path d="M52.79 339.41L56.68 335.52L60.57 339.41L56.68 343.30Z" stroke="#00BFC4" stroke-width="0.85" fill="none"/>
<path d="M66.04 329.46L69.93 325.58L73.82 329.46L69.93 333.35Z" stroke="#00BFC4" stroke-width="0.85" fill="none"/>
<path d="M79.29 320.96L83.18 317.07L87.07 320.96L83.18 324.85Z" stroke="#00BFC4" stroke-width="0.85" fill="none"/>
<path d="M92.55 313.36L96.44 309.47L100.33 313.36L96.44 317.25Z" stroke="#00BFC4" stroke-width="0.85" fill="none"/>
<path d="M105.80 306.60L109.69 302.71L113.58 306.60L109.69 310.48Z" stroke="#00BFC4" stroke-width="0.85" fill="none"/>
<path d="M119.05 300.63L122.94 296.74L126.83 300.63L122.94 304.52Z" stroke="#00BFC4" stroke-width="0.85" fill="none"/>
<path d="M132.31 295.46L136.20 291.57L140.09 295.46L136.20 299.34Z" stroke="#00BFC4" stroke-width="0.85" fill="none"/>
<path d="M145.56 291.04L149.45 287.15L153.34 291.04L149.45 294.93Z" stroke="#00BFC4" stroke-width="0.85" fill="none"/>
<path d="M158.81 287.36L162.70 283.48L166.59 287.36L162.70 291.25Z" stroke="#00BFC4" stroke-width="0.85" fill="none"/>
<path d="M172.07 284.39L175.96 280.50L179.85 284.39L175.96 288.28Z" stroke="#00BFC4" stroke-width="0.85" fill="none"/>
<path d="M185.32 282.07L189.21 278.18L193.10 282.07L189.21 285.96Z" stroke="#00BFC4" stroke-width="0.85" fill="none"/>
<path d="M198.57 280.34L202.46 276.45L206.35 280.34L202.46 284.23Z" stroke="#00BFC4" stroke-width="0.85" fill="none"/>
<path d="M211.83 279.12L215.72 275.23L219.61 279.12L215.72 283.01Z" stroke="#00BFC4" stroke-width="0.85" fill="none"/>
<path d="M225.08 278.33L228.97 274.44L232.86 278.33L228.97 282.22Z" stroke="#00BFC4" stroke-width="0.85" fill="none"/>
<path d="M238.33 277.86L242.22 273.97L246.11 277.86L242.22 281.75Z" stroke="#00BFC4" stroke-width="0.85" fill="none"/>
<polygon points="56.68,343.69 60.38,337.27 52.97,337.27" stroke="#00A9FF" stroke-width="0.85" fill="none" stroke-linejoin="miter"/>
<polygon points="69.93,334.01 73.63,327.60 66.23,327.60" stroke="#00A9FF" stroke-width="0.85" fill="none" stroke-linejoin="miter"/>
<polygon points="83.18,326.05 86.89,319.64 79.48,319.64" stroke="#00A9FF" stroke-width="0.85" fill="none" stroke-linejoin="miter"/>
<polygon points="96.44,319.28 100.14,312.86 92.73,312.86" stroke="#00A9FF" stroke-width="0.85" fill="none" stroke-linejoin="miter"/>
<polygon points="109.69,313.60 113.39,307.18 105.99,307.18" stroke="#00A9FF" stroke-width="0.85" fill="none" stroke-linejoin="miter"/>
<polygon points="122.94,308.96 126.65,302.54 119.24,302.54" stroke="#00A9FF" stroke-width="0.85" fill="none" stroke-linejoin="miter"/>
<polygon points="136.20,305.30 139.90,298.88 132.49,298.88" stroke="#00A9FF" stroke-width="0.85" fill="none" stroke-linejoin="miter"/>
<polygon points="149.45,302.55 153.15,296.13 145.75,296.13" stroke="#00A9FF" stroke-width="0.85" fill="none" stroke-linejoin="miter"/>
<polygon points="162.70,300.61 166.41,294.19 159.00,294.19" stroke="#00A9FF" stroke-width="0.85" fill="none" stroke-linejoin="miter"/>
<polygon points="175.96,299.35 179.66,292.94 172.25,292.94" stroke="#00A9FF" stroke-width="0.85" fill="none" stroke-linejoin="miter"/>
<polygon points="189.21,298.63 192.91,292.21 185.51,292.21" stroke="#00A9FF" stroke-width="0.85" fill="none" stroke-linejoin="miter"/>
<polygon points="202.46,298.26 206.17,291.85 198.76,291.85" stroke="#00A9FF" stroke-width="0.85" fill="none" stroke-linejoin="miter"/>
<polygon points="215.72,298.10 219.42,291.69 212.01,291.69" stroke="#00A9FF" stroke-width="0.85" fill="none" stroke-linejoin="miter"/>
<polygon points="228.97,298.05 232.67,291.63 225.27,291.63" stroke="#00A9FF" stroke-width="0.85" fill="none" stroke-linejoin="miter"/>
<polygon points="242.22,298.03 245.93,291.62 238.52,291.62" stroke="#00A9FF" stroke-width="0.85" fill="none" stroke-linejoin="miter"/>
<path d="M53.93 336.66H59.43V342.16H53.93ZM53.93 336.66L59.43 342.16M53.93 342.16L59.43 336.66" stroke="#C77CFF" stroke-width="0.85" fill="none"/>
<path d="M67.18 327.44H72.68V332.94H67.18ZM67.18 327.44L72.68 332.94M67.18 332.94L72.68 327.44" stroke="#C77CFF" stroke-width="0.85" fill="none"/>
<path d="M80.43 320.37H85.93V325.87H80.43ZM80.43 320.37L85.93 325.87M80.43 325.87L85.93 320.37" stroke="#C77CFF" stroke-width="0.85" fill="none"/>
<path d="M93.69 314.91H99.19V320.41H93.69ZM93.69 314.91L99.19 320.41M93.69 320.41L99.19 314.91" stroke="#C77CFF" stroke-width="0.85" fill="none"/>
<path d="M106.94 310.89H112.44V316.39H106.94ZM106.94 310.89L112.44 316.39M106.94 316.39L112.44 310.89" stroke="#C77CFF" stroke-width="0.85" fill="none"/>
<path d="M120.19 308.14H125.69V313.64H120.19ZM120.19 308.14L125.69 313.64M120.19 313.64L125.69 308.14" stroke="#C77CFF" stroke-width="0.85" fill="none"/>
<path d="M133.45 306.46H138.95V311.96H133.45ZM133.45 306.46L138.95 311.96M133.45 311.96L138.95 306.46" stroke="#C77CFF" stroke-width="0.85" fill="none"/>
<path d="M146.70 305.58H152.20V311.08H146.70ZM146.70 305.58L152.20 311.08M146.70 311.08L152.20 305.58" stroke="#C77CFF" stroke-width="0.85" fill="none"/>
<path d="M159.95 305.21H165.45V310.71H159.95ZM159.95 305.21L165.45 310.71M159.95 310.71L165.45 305.21" stroke="#C77CFF" stroke-width="0.85" fill="none"/>
<path d="M173.21 305.09H178.71V310.59H173.21ZM173.21 305.09L178.71 310.59M173.21 310.59L178.71 305.09" stroke="#C77CFF" stroke-width="0.85" fill="none"/>
<path d="M186.46 305.06H191.96V310.56H186.46ZM186.46 305.06L191.96 310.56M186.46 310.56L191.96 305.06" stroke="#C77CFF" stroke-width="0.85" fill="none"/>
<path d="M199.71 305.05H205.21V310.55H199.71ZM199.71 305.05L205.21 310.55M199.71 310.55L205.21 305.05" stroke="#C77CFF" stroke-width="0.85" fill="none"/>
<path d="M212.97 305.05H218.47V310.55H212.97ZM212.97 305.05L218.47 310.55M212.97 310.55L218.47 305.05" stroke="#C77CFF" stroke-width="0.85" fill="none"/>
<path d="M226.22 305.05H231.72V310.55H226.22ZM226.22 305.05L231.72 310.55M226.22 310.55L231.72 305.05" stroke="#C77CFF" stroke-width="0.85" fill="none"/>
<path d="M239.47 305.05H244.97V310.55H239.47ZM239.47 305.05L244.97 310.55M239.47 310.55L244.97 305.05" stroke="#C77CFF" stroke-width="0.85" fill="none"/>
<path d="M53.93 336.66L59.43 342.16M53.93 342.16L59.43 336.66M52.79 339.41H60.57M56.68 335.52V343.30" stroke="#FF61CC" stroke-width="0.85" fill="none"/>
<path d="M67.18 328.14L72.68 333.64M67.18 333.64L72.68 328.14M66.04 330.89H73.82M69.93 327.00V334.78" stroke="#FF61CC" stroke-width="0.85" fill="none"/>
<path d="M80.43 322.40L85.93 327.90M80.43 327.90L85.93 322.40M79.29 325.15H87.07M83.18 321.26V329.04" stroke="#FF61CC" stroke-width="0.85" fill="none"/>
<path d="M93.69 318.75L99.19 324.25M93.69 324.25L99.19 318.75M92.55 321.50H100.33M96.44 317.62V325.39" stroke="#FF61CC" stroke-width="0.85" fill="none"/>
<path d="M106.94 316.76L112.44 322.26M106.94 322.26L112.44 316.76M105.80 319.51H113.58M109.69 315.62V323.40" stroke="#FF61CC" stroke-width="0.85" fill="none"/>
<path d="M120.19 315.90L125.69 321.40M120.19 321.40L125.69 315.90M119.05 318.65H126.83M122.94 314.76V322.54" stroke="#FF61CC" stroke-width="0.85" fill="none"/>
<path d="M133.45 315.63L138.95 321.13M133.45 321.13L138.95 315.63M132.31 318.38H140.09M136.20 314.49V322.27" stroke="#FF61CC" stroke-width="0.85" fill="none"/>
<path d="M146.70 315.58L152.20 321.08M146.70 321.08L152.20 315.58M145.56 318.33H153.34M149.45 314.44V322.22" stroke="#FF61CC" stroke-width="0.85" fill="none"/>
<path d="M159.95 315.57L165.45 321.07M159.95 321.07L165.45 315.57M158.81 318.32H166.59M162.70 314.43V322.21" stroke="#FF61CC" stroke-width="0.85" fill="none"/>
<path d="M173.21 315.57L178.71 321.07M173.21 321.07L178.71 315.57M172.07 318.32H179.85M175.96 314.43V322.21" stroke="#FF61CC" stroke-width="0.85" fill="none"/>
<path d="M186.46 315.57L191.96 321.07M186.46 321.07L191.96 315.57M185.32 318.32H193.10M189.21 314.43V322.21" stroke="#FF61CC" stroke-width="0.85" fill="none"/>
<path d="M199.71 315.57L205.21 321.07M199.71 321.07L205.21 315.57M198.57 318.32H206.35M202.46 314.43V322.21" stroke="#FF61CC" stroke-width="0.85" fill="none"/>
<path d="M212.97 315.57L218.47 321.07M212.97 321.07L218.47 315.57M211.83 318.32H219.61M215.72 314.43V322.21" stroke="#FF61CC" stroke-width="0.85" fill="none"/>
<path d="M226.22 315.57L231.72 321.07M226.22 321.07L231.72 315.57M225.08 318.32H232.86M228.97 314.43V322.21" stroke="#FF61CC" stroke-width="0.85" fill="none"/>
<path d="M239.47 315.57L244.97 321.07M239.47 321.07L244.97 315.57M238.33 318.32H246.11M242.22 314.43V322.21" stroke="#FF61CC" stroke-width="0.85" fill="none"/>
<rect x="47.40" y="192.60" width="204.10" height="153.80" fill="none" stroke="#474747" stroke-width="1"/>
<g stroke="#333333" stroke-width="1.1">
<line x1="56.68" y1="346.40" x2="56.68" y2="350.40"/>
<line x1="69.93" y1="346.40" x2="69.93" y2="350.40"/>
<line x1="83.18" y1="346.40" x2="83.18" y2="350.40"/>
<line x1="96.44" y1="346.40" x2="96.44" y2="350.40"/>
<line x1="109.69" y1="346.40" x2="109.69" y2="350.40"/>
<line x1="122.94" y1="346.40" x2="122.94" y2="350.40"/>
<line x1="136.20" y1="346.40" x2="136.20" y2="350.40"/>
<line x1="149.45" y1="346.40" x2="149.45" y2="350.40"/>
<line x1="162.70" y1="346.40" x2="162.70" y2="350.40"/>
<line x1="175.96" y1="346.40" x2="175.96" y2="350.40"/>
<line x1="189.21" y1="346.40" x2="189.21" y2="350.40"/>
<line x1="202.46" y1="346.40" x2="202.46" y2="350.40"/>
<line x1="215.72" y1="346.40" x2="215.72" y2="350.40"/>
<line x1="228.97" y1="346.40" x2="228.97" y2="350.40"/>
<line x1="242.22" y1="346.40" x2="242.22" y2="350.40"/>
<line x1="43.40" y1="337.13" x2="47.40" y2="337.13"/>
<line x1="43.40" y1="312.71" x2="47.40" y2="312.71"/>
<line x1="43.40" y1="288.29" x2="47.40" y2="288.29"/>
<line x1="43.40" y1="263.88" x2="47.40" y2="263.88"/>
<line x1="43.40" y1="239.46" x2="47.40" y2="239.46"/>
<line x1="43.40" y1="215.05" x2="47.40" y2="215.05"/>
</g>
<g fill="#4D4D4D" font-size="9.1" text-anchor="middle">
<text x="56.68" y="359.80">1</text>
<text x="69.93" y="359.80">2</text>
<text x="83.18" y="359.80">3</text>
<text x="96.44" y="359.80">4</text>
<text x="109.69" y="359.80">5</text>
<text x="122.94" y="359.80">6</text>
<text x="136.20" y="359.80">7</text>
<text x="149.45" y="359.80">8</text>
<text x="162.70" y="359.80">9</text>
<text x="175.96" y="359.80">10</text>
<text x="189.21" y="359.80">11</text>
<text x="202.46" y="359.80">12</text>
<text x="215.72" y="359.80">13</text>
<text x="228.97" y="359.80">14</text>
<text x="242.22" y="359.80">15</text>
</g>
<g fill="#4D4D4D" font-size="8.6" text-anchor="end">
<text x="39.60" y="341.73">10<tspan font-size="5.8" dy="-4.3">1</tspan></text>
<text x="39.60" y="317.31">10<tspan font-size="5.8" dy="-4.3">3</tspan></text>
<text x="39.60" y="292.89">10<tspan font-size="5.8" dy="-4.3">5</tspan></text>
<text x="39.60" y="268.48">10<tspan font-size="5.8" dy="-4.3">7</tspan></text>
<text x="39.60" y="244.06">10<tspan font-size="5.8" dy="-4.3">9</tspan></text>
<text x="39.60" y="219.65">10<tspan font-size="5.8" dy="-4.3">11</tspan></text>
</g>
<text x="5.00" y="195.10" font-size="8.8" font-weight="bold">C</text>
<text transform="translate(17.40,270.40) rotate(-90)" font-size="10.0" text-anchor="middle"><tspan font-style="italic">F</tspan>(<tspan font-style="italic">R</tspan><tspan font-size="7.00" dy="1.8">0</tspan><tspan dy="-1.8" dx="1.3">=</tspan><tspan dx="1.3">6.5,</tspan><tspan dx="1" font-style="italic">k</tspan><tspan>;</tspan><tspan dx="1" font-style="italic">m</tspan>)</text>
<g stroke="#EBEBEB" stroke-width="0.9">
<line x1="311.43" y1="192.70" x2="311.43" y2="331.20"/>
<line x1="324.91" y1="192.70" x2="324.91" y2="331.20"/>
<line x1="338.38" y1="192.70" x2="338.38" y2="331.20"/>
<line x1="351.85" y1="192.70" x2="351.85" y2="331.20"/>
<line x1="365.33" y1="192.70" x2="365.33" y2="331.20"/>
<line x1="378.80" y1="192.70" x2="378.80" y2="331.20"/>
<line x1="392.28" y1="192.70" x2="392.28" y2="331.20"/>
<line x1="405.75" y1="192.70" x2="405.75" y2="331.20"/>
<line x1="419.22" y1="192.70" x2="419.22" y2="331.20"/>
<line x1="432.70" y1="192.70" x2="432.70" y2="331.20"/>
<line x1="446.17" y1="192.70" x2="446.17" y2="331.20"/>
<line x1="459.65" y1="192.70" x2="459.65" y2="331.20"/>
<line x1="473.12" y1="192.70" x2="473.12" y2="331.20"/>
<line x1="486.59" y1="192.70" x2="486.59" y2="331.20"/>
<line x1="500.07" y1="192.70" x2="500.07" y2="331.20"/>
<line x1="302.00" y1="320.19" x2="509.50" y2="320.19"/>
<line x1="302.00" y1="292.97" x2="509.50" y2="292.97"/>
<line x1="302.00" y1="265.76" x2="509.50" y2="265.76"/>
<line x1="302.00" y1="238.55" x2="509.50" y2="238.55"/>
<line x1="302.00" y1="211.34" x2="509.50" y2="211.34"/>
</g>
<path d="M311.43 324.90C315.92 321.55 320.41 318.03 324.91 314.83C329.40 311.63 333.89 308.72 338.38 305.71C342.87 302.70 347.36 299.74 351.85 296.77C356.35 293.80 360.84 290.84 365.33 287.87C369.82 284.91 374.31 281.95 378.80 278.98C383.29 276.02 387.78 273.06 392.28 270.10C396.77 267.13 401.26 264.17 405.75 261.21C410.24 258.25 414.73 255.28 419.22 252.32C423.72 249.36 428.21 246.40 432.70 243.43C437.19 240.47 441.68 237.51 446.17 234.55C450.66 231.58 455.15 228.62 459.65 225.66C464.14 222.70 468.63 219.73 473.12 216.77C477.61 213.81 482.10 210.85 486.59 207.88C491.09 204.92 495.58 201.96 500.07 199.00" fill="none" stroke="#F8766D" stroke-width="1.5" stroke-linejoin="round"/>
<path d="M311.43 324.90C315.92 321.56 320.41 318.05 324.91 314.88C329.40 311.71 333.89 308.83 338.38 305.86C342.87 302.89 347.36 299.99 351.85 297.08C356.35 294.17 360.84 291.28 365.33 288.40C369.82 285.52 374.31 282.65 378.80 279.79C383.29 276.93 387.78 274.08 392.28 271.24C396.77 268.40 401.26 265.57 405.75 262.75C410.24 259.93 414.73 257.12 419.22 254.32C423.72 251.52 428.21 248.73 432.70 245.95C437.19 243.17 441.68 240.40 446.17 237.64C450.66 234.88 455.15 232.12 459.65 229.38C464.14 226.64 468.63 223.91 473.12 221.19C477.61 218.47 482.10 215.76 486.59 213.05C491.09 210.35 495.58 207.67 500.07 204.98" fill="none" stroke="#CD9600" stroke-width="1.5" stroke-linejoin="round"/>
<path d="M311.43 324.90C315.92 321.63 320.41 318.15 324.91 315.08C329.40 312.01 333.89 309.26 338.38 306.47C342.87 303.68 347.36 300.99 351.85 298.34C356.35 295.69 360.84 293.09 365.33 290.55C369.82 288.00 374.31 285.51 378.80 283.06C383.29 280.61 387.78 278.22 392.28 275.87C396.77 273.52 401.26 271.22 405.75 268.97C410.24 266.73 414.73 264.53 419.22 262.37C423.72 260.22 428.21 258.12 432.70 256.07C437.19 254.01 441.68 252.01 446.17 250.05C450.66 248.09 455.15 246.19 459.65 244.33C464.14 242.47 468.63 240.65 473.12 238.89C477.61 237.13 482.10 235.41 486.59 233.74C491.09 232.08 495.58 230.51 500.07 228.89" fill="none" stroke="#7CAE00" stroke-width="1.5" stroke-linejoin="round"/>
<path d="M311.43 324.90C315.92 321.71 320.41 318.28 324.91 315.34C329.40 312.39 333.89 309.82 338.38 307.26C342.87 304.69 347.36 302.28 351.85 299.95C356.35 297.62 360.84 295.40 365.33 293.27C369.82 291.15 374.31 289.12 378.80 287.19C383.29 285.26 387.78 283.43 392.28 281.69C396.77 279.95 401.26 278.31 405.75 276.76C410.24 275.21 414.73 273.75 419.22 272.39C423.72 271.02 428.21 269.75 432.70 268.56C437.19 267.37 441.68 266.27 446.17 265.26C450.66 264.24 455.15 263.31 459.65 262.46C464.14 261.61 468.63 260.85 473.12 260.15C477.61 259.46 482.10 258.84 486.59 258.29C491.09 257.74 495.58 257.32 500.07 256.84" fill="none" stroke="#00BE67" stroke-width="1.5" stroke-linejoin="round"/>
<path d="M311.43 324.90C315.92 321.80 320.41 318.41 324.91 315.61C329.40 312.80 333.89 310.41 338.38 308.07C342.87 305.74 347.36 303.61 351.85 301.60C356.35 299.59 360.84 297.75 365.33 296.04C369.82 294.32 374.31 292.76 378.80 291.33C383.29 289.90 387.78 288.61 392.28 287.44C396.77 286.27 401.26 285.24 405.75 284.32C410.24 283.40 414.73 282.61 419.22 281.91C423.72 281.21 428.21 280.64 432.70 280.14C437.19 279.64 441.68 279.25 446.17 278.92C450.66 278.59 455.15 278.35 459.65 278.15C464.14 277.94 468.63 277.81 473.12 277.70C477.61 277.58 482.10 277.52 486.59 277.47C491.09 277.41 495.58 277.40 500.07 277.36" fill="none" stroke="#00BFC4" stroke-width="1.5" stroke-linejoin="round"/>
<path d="M311.43 324.90C315.92 321.90 320.41 318.55 324.91 315.89C329.40 313.22 333.89 311.02 338.38 308.92C342.87 306.81 347.36 304.96 351.85 303.28C356.35 301.59 360.84 300.12 365.33 298.80C369.82 297.49 374.31 296.36 378.80 295.38C383.29 294.40 387.78 293.60 392.28 292.92C396.77 292.23 401.26 291.71 405.75 291.27C410.24 290.83 414.73 290.52 419.22 290.27C423.72 290.02 428.21 289.87 432.70 289.74C437.19 289.61 441.68 289.55 446.17 289.50C450.66 289.44 455.15 289.43 459.65 289.41C464.14 289.39 468.63 289.39 473.12 289.38C477.61 289.38 482.10 289.38 486.59 289.38C491.09 289.37 495.58 289.37 500.07 289.37" fill="none" stroke="#00A9FF" stroke-width="1.5" stroke-linejoin="round"/>
<path d="M311.43 324.90C315.92 322.06 320.41 318.79 324.91 316.36C329.40 313.92 333.89 312.02 338.38 310.29C342.87 308.55 347.36 307.15 351.85 305.94C356.35 304.73 360.84 303.80 365.33 303.02C369.82 302.25 374.31 301.72 378.80 301.28C383.29 300.84 387.78 300.60 392.28 300.39C396.77 300.18 401.26 300.10 405.75 300.02C410.24 299.94 414.73 299.92 419.22 299.90C423.72 299.88 428.21 299.88 432.70 299.87C437.19 299.87 441.68 299.87 446.17 299.87C450.66 299.87 455.15 299.87 459.65 299.87C464.14 299.87 468.63 299.87 473.12 299.87C477.61 299.87 482.10 299.87 486.59 299.87C491.09 299.87 495.58 299.87 500.07 299.87" fill="none" stroke="#C77CFF" stroke-width="1.5" stroke-linejoin="round"/>
<path d="M311.43 324.90C315.92 322.30 320.41 319.18 324.91 317.08C329.40 314.98 333.89 313.55 338.38 312.31C342.87 311.07 347.36 310.28 351.85 309.63C356.35 308.98 360.84 308.68 365.33 308.40C369.82 308.13 374.31 308.05 378.80 307.98C383.29 307.92 387.78 307.90 392.28 307.89C396.77 307.88 401.26 307.87 405.75 307.87C410.24 307.87 414.73 307.87 419.22 307.87C423.72 307.87 428.21 307.87 432.70 307.87C437.19 307.87 441.68 307.87 446.17 307.87C450.66 307.87 455.15 307.87 459.65 307.87C464.14 307.87 468.63 307.87 473.12 307.87C477.61 307.87 482.10 307.87 486.59 307.87C491.09 307.87 495.58 307.87 500.07 307.87" fill="none" stroke="#FF61CC" stroke-width="1.5" stroke-linejoin="round"/>
<circle cx="311.43" cy="324.90" r="2.75" stroke="#F8766D" stroke-width="0.85" fill="none"/>
<circle cx="324.91" cy="314.83" r="2.75" stroke="#F8766D" stroke-width="0.85" fill="none"/>
<circle cx="338.38" cy="305.71" r="2.75" stroke="#F8766D" stroke-width="0.85" fill="none"/>
<circle cx="351.85" cy="296.77" r="2.75" stroke="#F8766D" stroke-width="0.85" fill="none"/>
<circle cx="365.33" cy="287.87" r="2.75" stroke="#F8766D" stroke-width="0.85" fill="none"/>
<circle cx="378.80" cy="278.98" r="2.75" stroke="#F8766D" stroke-width="0.85" fill="none"/>
<circle cx="392.28" cy="270.10" r="2.75" stroke="#F8766D" stroke-width="0.85" fill="none"/>
<circle cx="405.75" cy="261.21" r="2.75" stroke="#F8766D" stroke-width="0.85" fill="none"/>
<circle cx="419.22" cy="252.32" r="2.75" stroke="#F8766D" stroke-width="0.85" fill="none"/>
<circle cx="432.70" cy="243.43" r="2.75" stroke="#F8766D" stroke-width="0.85" fill="none"/>
<circle cx="446.17" cy="234.55" r="2.75" stroke="#F8766D" stroke-width="0.85" fill="none"/>
<circle cx="459.65" cy="225.66" r="2.75" stroke="#F8766D" stroke-width="0.85" fill="none"/>
<circle cx="473.12" cy="216.77" r="2.75" stroke="#F8766D" stroke-width="0.85" fill="none"/>
<circle cx="486.59" cy="207.88" r="2.75" stroke="#F8766D" stroke-width="0.85" fill="none"/>
<circle cx="500.07" cy="199.00" r="2.75" stroke="#F8766D" stroke-width="0.85" fill="none"/>
<polygon points="311.43,320.63 315.14,327.04 307.73,327.04" stroke="#CD9600" stroke-width="0.85" fill="none" stroke-linejoin="miter"/>
<polygon points="324.91,310.60 328.61,317.02 321.20,317.02" stroke="#CD9600" stroke-width="0.85" fill="none" stroke-linejoin="miter"/>
<polygon points="338.38,301.58 342.08,308.00 334.68,308.00" stroke="#CD9600" stroke-width="0.85" fill="none" stroke-linejoin="miter"/>
<polygon points="351.85,292.81 355.56,299.22 348.15,299.22" stroke="#CD9600" stroke-width="0.85" fill="none" stroke-linejoin="miter"/>
<polygon points="365.33,284.13 369.03,290.54 361.62,290.54" stroke="#CD9600" stroke-width="0.85" fill="none" stroke-linejoin="miter"/>
<polygon points="378.80,275.52 382.51,281.93 375.10,281.93" stroke="#CD9600" stroke-width="0.85" fill="none" stroke-linejoin="miter"/>
<polygon points="392.28,266.97 395.98,273.38 388.57,273.38" stroke="#CD9600" stroke-width="0.85" fill="none" stroke-linejoin="miter"/>
<polygon points="405.75,258.48 409.45,264.89 402.05,264.89" stroke="#CD9600" stroke-width="0.85" fill="none" stroke-linejoin="miter"/>
<polygon points="419.22,250.04 422.93,256.46 415.52,256.46" stroke="#CD9600" stroke-width="0.85" fill="none" stroke-linejoin="miter"/>
<polygon points="432.70,241.67 436.40,248.09 428.99,248.09" stroke="#CD9600" stroke-width="0.85" fill="none" stroke-linejoin="miter"/>
<polygon points="446.17,233.36 449.88,239.77 442.47,239.77" stroke="#CD9600" stroke-width="0.85" fill="none" stroke-linejoin="miter"/>
<polygon points="459.65,225.11 463.35,231.52 455.94,231.52" stroke="#CD9600" stroke-width="0.85" fill="none" stroke-linejoin="miter"/>
<polygon points="473.12,216.91 476.82,223.33 469.42,223.33" stroke="#CD9600" stroke-width="0.85" fill="none" stroke-linejoin="miter"/>
<polygon points="486.59,208.78 490.30,215.19 482.89,215.19" stroke="#CD9600" stroke-width="0.85" fill="none" stroke-linejoin="miter"/>
<polygon points="500.07,200.70 503.77,207.12 496.36,207.12" stroke="#CD9600" stroke-width="0.85" fill="none" stroke-linejoin="miter"/>
<path d="M307.54 324.90H315.32M311.43 321.02V328.79" stroke="#7CAE00" stroke-width="0.85" fill="none"/>
<path d="M321.02 315.08H328.79M324.91 311.19V318.97" stroke="#7CAE00" stroke-width="0.85" fill="none"/>
<path d="M334.49 306.47H342.27M338.38 302.58V310.36" stroke="#7CAE00" stroke-width="0.85" fill="none"/>
<path d="M347.96 298.34H355.74M351.85 294.45V302.23" stroke="#7CAE00" stroke-width="0.85" fill="none"/>
<path d="M361.44 290.55H369.22M365.33 286.66V294.44" stroke="#7CAE00" stroke-width="0.85" fill="none"/>
<path d="M374.91 283.06H382.69M378.80 279.17V286.95" stroke="#7CAE00" stroke-width="0.85" fill="none"/>
<path d="M388.39 275.87H396.17M392.28 271.98V279.76" stroke="#7CAE00" stroke-width="0.85" fill="none"/>
<path d="M401.86 268.97H409.64M405.75 265.09V272.86" stroke="#7CAE00" stroke-width="0.85" fill="none"/>
<path d="M415.33 262.37H423.11M419.22 258.49V266.26" stroke="#7CAE00" stroke-width="0.85" fill="none"/>
<path d="M428.81 256.07H436.59M432.70 252.18V259.96" stroke="#7CAE00" stroke-width="0.85" fill="none"/>
<path d="M442.28 250.05H450.06M446.17 246.16V253.94" stroke="#7CAE00" stroke-width="0.85" fill="none"/>
<path d="M455.76 244.33H463.54M459.65 240.44V248.22" stroke="#7CAE00" stroke-width="0.85" fill="none"/>
<path d="M469.23 238.89H477.01M473.12 235.00V242.78" stroke="#7CAE00" stroke-width="0.85" fill="none"/>
<path d="M482.71 233.74H490.48M486.59 229.86V237.63" stroke="#7CAE00" stroke-width="0.85" fill="none"/>
<path d="M496.18 228.89H503.96M500.07 225.00V232.77" stroke="#7CAE00" stroke-width="0.85" fill="none"/>
<path d="M308.68 322.15L314.18 327.65M308.68 327.65L314.18 322.15" stroke="#00BE67" stroke-width="0.85" fill="none"/>
<path d="M322.16 312.59L327.66 318.09M322.16 318.09L327.66 312.59" stroke="#00BE67" stroke-width="0.85" fill="none"/>
<path d="M335.63 304.51L341.13 310.01M335.63 310.01L341.13 304.51" stroke="#00BE67" stroke-width="0.85" fill="none"/>
<path d="M349.10 297.20L354.60 302.70M349.10 302.70L354.60 297.20" stroke="#00BE67" stroke-width="0.85" fill="none"/>
<path d="M362.58 290.52L368.08 296.02M362.58 296.02L368.08 290.52" stroke="#00BE67" stroke-width="0.85" fill="none"/>
<path d="M376.05 284.44L381.55 289.94M376.05 289.94L381.55 284.44" stroke="#00BE67" stroke-width="0.85" fill="none"/>
<path d="M389.53 278.94L395.03 284.44M389.53 284.44L395.03 278.94" stroke="#00BE67" stroke-width="0.85" fill="none"/>
<path d="M403.00 274.01L408.50 279.51M403.00 279.51L408.50 274.01" stroke="#00BE67" stroke-width="0.85" fill="none"/>
<path d="M416.47 269.64L421.97 275.14M416.47 275.14L421.97 269.64" stroke="#00BE67" stroke-width="0.85" fill="none"/>
<path d="M429.95 265.81L435.45 271.31M429.95 271.31L435.45 265.81" stroke="#00BE67" stroke-width="0.85" fill="none"/>
<path d="M443.42 262.51L448.92 268.01M443.42 268.01L448.92 262.51" stroke="#00BE67" stroke-width="0.85" fill="none"/>
<path d="M456.90 259.71L462.40 265.21M456.90 265.21L462.40 259.71" stroke="#00BE67" stroke-width="0.85" fill="none"/>
<path d="M470.37 257.40L475.87 262.90M470.37 262.90L475.87 257.40" stroke="#00BE67" stroke-width="0.85" fill="none"/>
<path d="M483.84 255.54L489.34 261.04M483.84 261.04L489.34 255.54" stroke="#00BE67" stroke-width="0.85" fill="none"/>
<path d="M497.32 254.09L502.82 259.59M497.32 259.59L502.82 254.09" stroke="#00BE67" stroke-width="0.85" fill="none"/>
<path d="M307.54 324.90L311.43 321.02L315.32 324.90L311.43 328.79Z" stroke="#00BFC4" stroke-width="0.85" fill="none"/>
<path d="M321.02 315.61L324.91 311.72L328.79 315.61L324.91 319.49Z" stroke="#00BFC4" stroke-width="0.85" fill="none"/>
<path d="M334.49 308.07L338.38 304.18L342.27 308.07L338.38 311.96Z" stroke="#00BFC4" stroke-width="0.85" fill="none"/>
<path d="M347.96 301.60L351.85 297.71L355.74 301.60L351.85 305.49Z" stroke="#00BFC4" stroke-width="0.85" fill="none"/>
<path d="M361.44 296.04L365.33 292.15L369.22 296.04L365.33 299.93Z" stroke="#00BFC4" stroke-width="0.85" fill="none"/>
<path d="M374.91 291.33L378.80 287.44L382.69 291.33L378.80 295.22Z" stroke="#00BFC4" stroke-width="0.85" fill="none"/>
<path d="M388.39 287.44L392.28 283.55L396.17 287.44L392.28 291.33Z" stroke="#00BFC4" stroke-width="0.85" fill="none"/>
<path d="M401.86 284.32L405.75 280.43L409.64 284.32L405.75 288.21Z" stroke="#00BFC4" stroke-width="0.85" fill="none"/>
<path d="M415.33 281.91L419.22 278.02L423.11 281.91L419.22 285.80Z" stroke="#00BFC4" stroke-width="0.85" fill="none"/>
<path d="M428.81 280.14L432.70 276.25L436.59 280.14L432.70 284.03Z" stroke="#00BFC4" stroke-width="0.85" fill="none"/>
<path d="M442.28 278.92L446.17 275.03L450.06 278.92L446.17 282.81Z" stroke="#00BFC4" stroke-width="0.85" fill="none"/>
<path d="M455.76 278.15L459.65 274.26L463.54 278.15L459.65 282.03Z" stroke="#00BFC4" stroke-width="0.85" fill="none"/>
<path d="M469.23 277.70L473.12 273.81L477.01 277.70L473.12 281.59Z" stroke="#00BFC4" stroke-width="0.85" fill="none"/>
<path d="M482.71 277.47L486.59 273.58L490.48 277.47L486.59 281.36Z" stroke="#00BFC4" stroke-width="0.85" fill="none"/>
<path d="M496.18 277.36L500.07 273.47L503.96 277.36L500.07 281.25Z" stroke="#00BFC4" stroke-width="0.85" fill="none"/>
<polygon points="311.43,329.18 315.14,322.77 307.73,322.77" stroke="#00A9FF" stroke-width="0.85" fill="none" stroke-linejoin="miter"/>
<polygon points="324.91,320.16 328.61,313.75 321.20,313.75" stroke="#00A9FF" stroke-width="0.85" fill="none" stroke-linejoin="miter"/>
<polygon points="338.38,313.19 342.08,306.78 334.68,306.78" stroke="#00A9FF" stroke-width="0.85" fill="none" stroke-linejoin="miter"/>
<polygon points="351.85,307.56 355.56,301.14 348.15,301.14" stroke="#00A9FF" stroke-width="0.85" fill="none" stroke-linejoin="miter"/>
<polygon points="365.33,303.08 369.03,296.66 361.62,296.66" stroke="#00A9FF" stroke-width="0.85" fill="none" stroke-linejoin="miter"/>
<polygon points="378.80,299.66 382.51,293.25 375.10,293.25" stroke="#00A9FF" stroke-width="0.85" fill="none" stroke-linejoin="miter"/>
<polygon points="392.28,297.19 395.98,290.78 388.57,290.78" stroke="#00A9FF" stroke-width="0.85" fill="none" stroke-linejoin="miter"/>
<polygon points="405.75,295.54 409.45,289.13 402.05,289.13" stroke="#00A9FF" stroke-width="0.85" fill="none" stroke-linejoin="miter"/>
<polygon points="419.22,294.55 422.93,288.13 415.52,288.13" stroke="#00A9FF" stroke-width="0.85" fill="none" stroke-linejoin="miter"/>
<polygon points="432.70,294.02 436.40,287.60 428.99,287.60" stroke="#00A9FF" stroke-width="0.85" fill="none" stroke-linejoin="miter"/>
<polygon points="446.17,293.78 449.88,287.36 442.47,287.36" stroke="#00A9FF" stroke-width="0.85" fill="none" stroke-linejoin="miter"/>
<polygon points="459.65,293.69 463.35,287.27 455.94,287.27" stroke="#00A9FF" stroke-width="0.85" fill="none" stroke-linejoin="miter"/>
<polygon points="473.12,293.66 476.82,287.24 469.42,287.24" stroke="#00A9FF" stroke-width="0.85" fill="none" stroke-linejoin="miter"/>
<polygon points="486.59,293.65 490.30,287.24 482.89,287.24" stroke="#00A9FF" stroke-width="0.85" fill="none" stroke-linejoin="miter"/>
<polygon points="500.07,293.65 503.77,287.24 496.36,287.24" stroke="#00A9FF" stroke-width="0.85" fill="none" stroke-linejoin="miter"/>
<path d="M308.68 322.15H314.18V327.65H308.68ZM308.68 322.15L314.18 327.65M308.68 327.65L314.18 322.15" stroke="#C77CFF" stroke-width="0.85" fill="none"/>
<path d="M322.16 313.61H327.66V319.11H322.16ZM322.16 313.61L327.66 319.11M322.16 319.11L327.66 313.61" stroke="#C77CFF" stroke-width="0.85" fill="none"/>
<path d="M335.63 307.54H341.13V313.04H335.63ZM335.63 307.54L341.13 313.04M335.63 313.04L341.13 307.54" stroke="#C77CFF" stroke-width="0.85" fill="none"/>
<path d="M349.10 303.19H354.60V308.69H349.10ZM349.10 303.19L354.60 308.69M349.10 308.69L354.60 303.19" stroke="#C77CFF" stroke-width="0.85" fill="none"/>
<path d="M362.58 300.27H368.08V305.77H362.58ZM362.58 300.27L368.08 305.77M362.58 305.77L368.08 300.27" stroke="#C77CFF" stroke-width="0.85" fill="none"/>
<path d="M376.05 298.53H381.55V304.03H376.05ZM376.05 298.53L381.55 304.03M376.05 304.03L381.55 298.53" stroke="#C77CFF" stroke-width="0.85" fill="none"/>
<path d="M389.53 297.64H395.03V303.14H389.53ZM389.53 297.64L395.03 303.14M389.53 303.14L395.03 297.64" stroke="#C77CFF" stroke-width="0.85" fill="none"/>
<path d="M403.00 297.27H408.50V302.77H403.00ZM403.00 297.27L408.50 302.77M403.00 302.77L408.50 297.27" stroke="#C77CFF" stroke-width="0.85" fill="none"/>
<path d="M416.47 297.15H421.97V302.65H416.47ZM416.47 297.15L421.97 302.65M416.47 302.65L421.97 297.15" stroke="#C77CFF" stroke-width="0.85" fill="none"/>
<path d="M429.95 297.12H435.45V302.62H429.95ZM429.95 297.12L435.45 302.62M429.95 302.62L435.45 297.12" stroke="#C77CFF" stroke-width="0.85" fill="none"/>
<path d="M443.42 297.12H448.92V302.62H443.42ZM443.42 297.12L448.92 302.62M443.42 302.62L448.92 297.12" stroke="#C77CFF" stroke-width="0.85" fill="none"/>
<path d="M456.90 297.12H462.40V302.62H456.90ZM456.90 297.12L462.40 302.62M456.90 302.62L462.40 297.12" stroke="#C77CFF" stroke-width="0.85" fill="none"/>
<path d="M470.37 297.12H475.87V302.62H470.37ZM470.37 297.12L475.87 302.62M470.37 302.62L475.87 297.12" stroke="#C77CFF" stroke-width="0.85" fill="none"/>
<path d="M483.84 297.12H489.34V302.62H483.84ZM483.84 297.12L489.34 302.62M483.84 302.62L489.34 297.12" stroke="#C77CFF" stroke-width="0.85" fill="none"/>
<path d="M497.32 297.12H502.82V302.62H497.32ZM497.32 297.12L502.82 302.62M497.32 302.62L502.82 297.12" stroke="#C77CFF" stroke-width="0.85" fill="none"/>
<path d="M308.68 322.15L314.18 327.65M308.68 327.65L314.18 322.15M307.54 324.90H315.32M311.43 321.02V328.79" stroke="#FF61CC" stroke-width="0.85" fill="none"/>
<path d="M322.16 314.33L327.66 319.83M322.16 319.83L327.66 314.33M321.02 317.08H328.79M324.91 313.19V320.97" stroke="#FF61CC" stroke-width="0.85" fill="none"/>
<path d="M335.63 309.56L341.13 315.06M335.63 315.06L341.13 309.56M334.49 312.31H342.27M338.38 308.42V316.20" stroke="#FF61CC" stroke-width="0.85" fill="none"/>
<path d="M349.10 306.88L354.60 312.38M349.10 312.38L354.60 306.88M347.96 309.63H355.74M351.85 305.74V313.52" stroke="#FF61CC" stroke-width="0.85" fill="none"/>
<path d="M362.58 305.65L368.08 311.15M362.58 311.15L368.08 305.65M361.44 308.40H369.22M365.33 304.51V312.29" stroke="#FF61CC" stroke-width="0.85" fill="none"/>
<path d="M376.05 305.23L381.55 310.73M376.05 310.73L381.55 305.23M374.91 307.98H382.69M378.80 304.09V311.87" stroke="#FF61CC" stroke-width="0.85" fill="none"/>
<path d="M389.53 305.14L395.03 310.64M389.53 310.64L395.03 305.14M388.39 307.89H396.17M392.28 304.00V311.78" stroke="#FF61CC" stroke-width="0.85" fill="none"/>
<path d="M403.00 305.12L408.50 310.62M403.00 310.62L408.50 305.12M401.86 307.87H409.64M405.75 303.98V311.76" stroke="#FF61CC" stroke-width="0.85" fill="none"/>
<path d="M416.47 305.12L421.97 310.62M416.47 310.62L421.97 305.12M415.33 307.87H423.11M419.22 303.98V311.76" stroke="#FF61CC" stroke-width="0.85" fill="none"/>
<path d="M429.95 305.12L435.45 310.62M429.95 310.62L435.45 305.12M428.81 307.87H436.59M432.70 303.98V311.76" stroke="#FF61CC" stroke-width="0.85" fill="none"/>
<path d="M443.42 305.12L448.92 310.62M443.42 310.62L448.92 305.12M442.28 307.87H450.06M446.17 303.98V311.76" stroke="#FF61CC" stroke-width="0.85" fill="none"/>
<path d="M456.90 305.12L462.40 310.62M456.90 310.62L462.40 305.12M455.76 307.87H463.54M459.65 303.98V311.76" stroke="#FF61CC" stroke-width="0.85" fill="none"/>
<path d="M470.37 305.12L475.87 310.62M470.37 310.62L475.87 305.12M469.23 307.87H477.01M473.12 303.98V311.76" stroke="#FF61CC" stroke-width="0.85" fill="none"/>
<path d="M483.84 305.12L489.34 310.62M483.84 310.62L489.34 305.12M482.71 307.87H490.48M486.59 303.98V311.76" stroke="#FF61CC" stroke-width="0.85" fill="none"/>
<path d="M497.32 305.12L502.82 310.62M497.32 310.62L502.82 305.12M496.18 307.87H503.96M500.07 303.98V311.76" stroke="#FF61CC" stroke-width="0.85" fill="none"/>
<rect x="302.00" y="192.70" width="207.50" height="138.50" fill="none" stroke="#474747" stroke-width="1"/>
<g stroke="#333333" stroke-width="1.1">
<line x1="311.43" y1="331.20" x2="311.43" y2="335.20"/>
<line x1="324.91" y1="331.20" x2="324.91" y2="335.20"/>
<line x1="338.38" y1="331.20" x2="338.38" y2="335.20"/>
<line x1="351.85" y1="331.20" x2="351.85" y2="335.20"/>
<line x1="365.33" y1="331.20" x2="365.33" y2="335.20"/>
<line x1="378.80" y1="331.20" x2="378.80" y2="335.20"/>
<line x1="392.28" y1="331.20" x2="392.28" y2="335.20"/>
<line x1="405.75" y1="331.20" x2="405.75" y2="335.20"/>
<line x1="419.22" y1="331.20" x2="419.22" y2="335.20"/>
<line x1="432.70" y1="331.20" x2="432.70" y2="335.20"/>
<line x1="446.17" y1="331.20" x2="446.17" y2="335.20"/>
<line x1="459.65" y1="331.20" x2="459.65" y2="335.20"/>
<line x1="473.12" y1="331.20" x2="473.12" y2="335.20"/>
<line x1="486.59" y1="331.20" x2="486.59" y2="335.20"/>
<line x1="500.07" y1="331.20" x2="500.07" y2="335.20"/>
<line x1="298.00" y1="320.19" x2="302.00" y2="320.19"/>
<line x1="298.00" y1="292.97" x2="302.00" y2="292.97"/>
<line x1="298.00" y1="265.76" x2="302.00" y2="265.76"/>
<line x1="298.00" y1="238.55" x2="302.00" y2="238.55"/>
<line x1="298.00" y1="211.34" x2="302.00" y2="211.34"/>
</g>
<g fill="#4D4D4D" font-size="9.1" text-anchor="middle">
<text x="311.43" y="344.60">1</text>
<text x="324.91" y="344.60">2</text>
<text x="338.38" y="344.60">3</text>
<text x="351.85" y="344.60">4</text>
<text x="365.33" y="344.60">5</text>
<text x="378.80" y="344.60">6</text>
<text x="392.28" y="344.60">7</text>
<text x="405.75" y="344.60">8</text>
<text x="419.22" y="344.60">9</text>
<text x="432.70" y="344.60">10</text>
<text x="446.17" y="344.60">11</text>
<text x="459.65" y="344.60">12</text>
<text x="473.12" y="344.60">13</text>
<text x="486.59" y="344.60">14</text>
<text x="500.07" y="344.60">15</text>
</g>
<g fill="#4D4D4D" font-size="8.6" text-anchor="end">
<text x="294.20" y="324.79">10<tspan font-size="5.8" dy="-4.3">1</tspan></text>
<text x="294.20" y="297.57">10<tspan font-size="5.8" dy="-4.3">3</tspan></text>
<text x="294.20" y="270.36">10<tspan font-size="5.8" dy="-4.3">5</tspan></text>
<text x="294.20" y="243.15">10<tspan font-size="5.8" dy="-4.3">7</tspan></text>
<text x="294.20" y="215.94">10<tspan font-size="5.8" dy="-4.3">9</tspan></text>
</g>
<text x="263.30" y="195.10" font-size="8.8" font-weight="bold">D</text>
<text transform="translate(275.20,262.85) rotate(-90)" font-size="10.0" text-anchor="middle"><tspan font-style="italic">F</tspan>(<tspan font-style="italic">R</tspan><tspan font-size="7.00" dy="1.8">0</tspan><tspan dy="-1.8" dx="1.3">=</tspan><tspan dx="1.3">4.5,</tspan><tspan dx="1" font-style="italic">k</tspan><tspan>;</tspan><tspan dx="1" font-style="italic">m</tspan>)</text>
<text x="405.75" y="358.70" font-size="9.6" text-anchor="middle">Number of virus spread (<tspan font-style="italic">m</tspan>)</text>
<g stroke="#EBEBEB" stroke-width="0.9">
<line x1="53.71" y1="378.00" x2="53.71" y2="516.20"/>
<line x1="67.16" y1="378.00" x2="67.16" y2="516.20"/>
<line x1="80.61" y1="378.00" x2="80.61" y2="516.20"/>
<line x1="94.06" y1="378.00" x2="94.06" y2="516.20"/>
<line x1="107.51" y1="378.00" x2="107.51" y2="516.20"/>
<line x1="120.95" y1="378.00" x2="120.95" y2="516.20"/>
<line x1="134.40" y1="378.00" x2="134.40" y2="516.20"/>
<line x1="147.85" y1="378.00" x2="147.85" y2="516.20"/>
<line x1="161.30" y1="378.00" x2="161.30" y2="516.20"/>
<line x1="174.75" y1="378.00" x2="174.75" y2="516.20"/>
<line x1="188.19" y1="378.00" x2="188.19" y2="516.20"/>
<line x1="201.64" y1="378.00" x2="201.64" y2="516.20"/>
<line x1="215.09" y1="378.00" x2="215.09" y2="516.20"/>
<line x1="228.54" y1="378.00" x2="228.54" y2="516.20"/>
<line x1="241.99" y1="378.00" x2="241.99" y2="516.20"/>
<line x1="44.30" y1="490.47" x2="251.40" y2="490.47"/>
<line x1="44.30" y1="434.82" x2="251.40" y2="434.82"/>
<line x1="44.30" y1="379.18" x2="251.40" y2="379.18"/>
</g>
<path d="M53.71 509.92C58.20 505.49 62.68 500.56 67.16 496.64C71.64 492.72 76.13 489.65 80.61 486.40C85.09 483.16 89.58 480.19 94.06 477.19C98.54 474.20 103.02 471.31 107.51 468.42C111.99 465.53 116.47 462.69 120.95 459.85C125.44 457.01 129.92 454.20 134.40 451.38C138.88 448.57 143.37 445.76 147.85 442.96C152.33 440.16 156.82 437.36 161.30 434.56C165.78 431.76 170.26 428.97 174.75 426.17C179.23 423.38 183.71 420.58 188.19 417.79C192.68 415.00 197.16 412.20 201.64 409.41C206.12 406.62 210.61 403.83 215.09 401.03C219.57 398.24 224.06 395.45 228.54 392.66C233.02 389.87 237.50 387.07 241.99 384.28" fill="none" stroke="#F8766D" stroke-width="1.5" stroke-linejoin="round"/>
<path d="M53.71 509.92C58.20 505.52 62.68 500.60 67.16 496.72C71.64 492.85 76.13 489.82 80.61 486.65C85.09 483.47 89.58 480.59 94.06 477.69C98.54 474.80 103.02 472.04 107.51 469.29C111.99 466.54 116.47 463.86 120.95 461.19C125.44 458.53 129.92 455.92 134.40 453.32C138.88 450.72 143.37 448.15 147.85 445.61C152.33 443.06 156.82 440.54 161.30 438.04C165.78 435.54 170.26 433.06 174.75 430.61C179.23 428.15 183.71 425.71 188.19 423.30C192.68 420.88 197.16 418.48 201.64 416.11C206.12 413.73 210.61 411.38 215.09 409.04C219.57 406.70 224.06 404.39 228.54 402.09C233.02 399.79 237.50 397.54 241.99 395.26" fill="none" stroke="#CD9600" stroke-width="1.5" stroke-linejoin="round"/>
<path d="M53.71 509.92C58.20 505.63 62.68 500.77 67.16 497.05C71.64 493.34 76.13 490.52 80.61 487.62C85.09 484.73 89.58 482.17 94.06 479.68C98.54 477.19 103.02 474.89 107.51 472.68C111.99 470.47 116.47 468.40 120.95 466.41C125.44 464.43 129.92 462.55 134.40 460.77C138.88 458.98 143.37 457.30 147.85 455.70C152.33 454.10 156.82 452.59 161.30 451.17C165.78 449.75 170.26 448.41 174.75 447.16C179.23 445.90 183.71 444.73 188.19 443.64C192.68 442.54 197.16 441.53 201.64 440.58C206.12 439.64 210.61 438.77 215.09 437.97C219.57 437.17 224.06 436.44 228.54 435.77C233.02 435.10 237.50 434.56 241.99 433.95" fill="none" stroke="#7CAE00" stroke-width="1.5" stroke-linejoin="round"/>
<path d="M53.71 509.92C58.20 505.77 62.68 500.99 67.16 497.48C71.64 493.97 76.13 491.41 80.61 488.85C85.09 486.30 89.58 484.15 94.06 482.13C98.54 480.12 103.02 478.37 107.51 476.76C111.99 475.16 116.47 473.76 120.95 472.49C125.44 471.23 129.92 470.14 134.40 469.17C138.88 468.20 143.37 467.39 147.85 466.67C152.33 465.95 156.82 465.37 161.30 464.87C165.78 464.36 170.26 463.97 174.75 463.63C179.23 463.30 183.71 463.05 188.19 462.84C192.68 462.63 197.16 462.49 201.64 462.37C206.12 462.25 210.61 462.18 215.09 462.11C219.57 462.05 224.06 462.02 228.54 461.99C233.02 461.95 237.50 461.95 241.99 461.93" fill="none" stroke="#00BE67" stroke-width="1.5" stroke-linejoin="round"/>
<path d="M53.71 509.92C58.20 505.92 62.68 501.22 67.16 497.92C71.64 494.61 76.13 492.33 80.61 490.10C85.09 487.87 89.58 486.12 94.06 484.53C98.54 482.95 103.02 481.69 107.51 480.59C111.99 479.49 116.47 478.65 120.95 477.93C125.44 477.20 129.92 476.69 134.40 476.24C138.88 475.80 143.37 475.52 147.85 475.28C152.33 475.03 156.82 474.90 161.30 474.78C165.78 474.66 170.26 474.61 174.75 474.56C179.23 474.51 183.71 474.49 188.19 474.47C192.68 474.45 197.16 474.45 201.64 474.44C206.12 474.44 210.61 474.44 215.09 474.43C219.57 474.43 224.06 474.43 228.54 474.43C233.02 474.43 237.50 474.43 241.99 474.43" fill="none" stroke="#00BFC4" stroke-width="1.5" stroke-linejoin="round"/>
<path d="M53.71 509.92C58.20 506.07 62.68 501.47 67.16 498.37C71.64 495.28 76.13 493.27 80.61 491.35C85.09 489.43 89.58 488.06 94.06 486.85C98.54 485.65 103.02 484.82 107.51 484.11C111.99 483.40 116.47 482.97 120.95 482.60C125.44 482.23 129.92 482.05 134.40 481.88C138.88 481.71 143.37 481.65 147.85 481.59C152.33 481.53 156.82 481.51 161.30 481.49C165.78 481.48 170.26 481.47 174.75 481.47C179.23 481.46 183.71 481.46 188.19 481.46C192.68 481.46 197.16 481.46 201.64 481.46C206.12 481.46 210.61 481.46 215.09 481.46C219.57 481.46 224.06 481.46 228.54 481.46C233.02 481.46 237.50 481.46 241.99 481.46" fill="none" stroke="#00A9FF" stroke-width="1.5" stroke-linejoin="round"/>
<path d="M53.71 509.92C58.20 506.32 62.68 501.89 67.16 499.12C71.64 496.35 76.13 494.79 80.61 493.32C85.09 491.85 89.58 491.01 94.06 490.27C98.54 489.53 103.02 489.20 107.51 488.89C111.99 488.58 116.47 488.48 120.95 488.39C125.44 488.30 129.92 488.27 134.40 488.25C138.88 488.23 143.37 488.22 147.85 488.22C152.33 488.22 156.82 488.22 161.30 488.22C165.78 488.22 170.26 488.22 174.75 488.22C179.23 488.22 183.71 488.22 188.19 488.22C192.68 488.22 197.16 488.22 201.64 488.22C206.12 488.22 210.61 488.22 215.09 488.22C219.57 488.22 224.06 488.22 228.54 488.22C233.02 488.22 237.50 488.22 241.99 488.22" fill="none" stroke="#C77CFF" stroke-width="1.5" stroke-linejoin="round"/>
<path d="M53.71 509.92C58.20 506.70 62.68 502.56 67.16 500.25C71.64 497.94 76.13 497.02 80.61 496.06C85.09 495.11 89.58 494.80 94.06 494.53C98.54 494.27 103.02 494.18 107.51 494.14C111.99 494.09 116.47 494.07 120.95 494.07C125.44 494.06 129.92 494.06 134.40 494.06C138.88 494.06 143.37 494.06 147.85 494.06C152.33 494.06 156.82 494.06 161.30 494.06C165.78 494.06 170.26 494.06 174.75 494.06C179.23 494.06 183.71 494.06 188.19 494.06C192.68 494.06 197.16 494.06 201.64 494.06C206.12 494.06 210.61 494.06 215.09 494.06C219.57 494.06 224.06 494.06 228.54 494.06C233.02 494.06 237.50 494.06 241.99 494.06" fill="none" stroke="#FF61CC" stroke-width="1.5" stroke-linejoin="round"/>
<circle cx="53.71" cy="509.92" r="2.75" stroke="#F8766D" stroke-width="0.85" fill="none"/>
<circle cx="67.16" cy="496.64" r="2.75" stroke="#F8766D" stroke-width="0.85" fill="none"/>
<circle cx="80.61" cy="486.40" r="2.75" stroke="#F8766D" stroke-width="0.85" fill="none"/>
<circle cx="94.06" cy="477.19" r="2.75" stroke="#F8766D" stroke-width="0.85" fill="none"/>
<circle cx="107.51" cy="468.42" r="2.75" stroke="#F8766D" stroke-width="0.85" fill="none"/>
<circle cx="120.95" cy="459.85" r="2.75" stroke="#F8766D" stroke-width="0.85" fill="none"/>
<circle cx="134.40" cy="451.38" r="2.75" stroke="#F8766D" stroke-width="0.85" fill="none"/>
<circle cx="147.85" cy="442.96" r="2.75" stroke="#F8766D" stroke-width="0.85" fill="none"/>
<circle cx="161.30" cy="434.56" r="2.75" stroke="#F8766D" stroke-width="0.85" fill="none"/>
<circle cx="174.75" cy="426.17" r="2.75" stroke="#F8766D" stroke-width="0.85" fill="none"/>
<circle cx="188.19" cy="417.79" r="2.75" stroke="#F8766D" stroke-width="0.85" fill="none"/>
<circle cx="201.64" cy="409.41" r="2.75" stroke="#F8766D" stroke-width="0.85" fill="none"/>
<circle cx="215.09" cy="401.03" r="2.75" stroke="#F8766D" stroke-width="0.85" fill="none"/>
<circle cx="228.54" cy="392.66" r="2.75" stroke="#F8766D" stroke-width="0.85" fill="none"/>
<circle cx="241.99" cy="384.28" r="2.75" stroke="#F8766D" stroke-width="0.85" fill="none"/>
<polygon points="53.71,505.64 57.42,512.06 50.01,512.06" stroke="#CD9600" stroke-width="0.85" fill="none" stroke-linejoin="miter"/>
<polygon points="67.16,492.45 70.87,498.86 63.46,498.86" stroke="#CD9600" stroke-width="0.85" fill="none" stroke-linejoin="miter"/>
<polygon points="80.61,482.37 84.31,488.78 76.91,488.78" stroke="#CD9600" stroke-width="0.85" fill="none" stroke-linejoin="miter"/>
<polygon points="94.06,473.42 97.76,479.83 90.35,479.83" stroke="#CD9600" stroke-width="0.85" fill="none" stroke-linejoin="miter"/>
<polygon points="107.51,465.01 111.21,471.42 103.80,471.42" stroke="#CD9600" stroke-width="0.85" fill="none" stroke-linejoin="miter"/>
<polygon points="120.95,456.92 124.66,463.33 117.25,463.33" stroke="#CD9600" stroke-width="0.85" fill="none" stroke-linejoin="miter"/>
<polygon points="134.40,449.04 138.11,455.46 130.70,455.46" stroke="#CD9600" stroke-width="0.85" fill="none" stroke-linejoin="miter"/>
<polygon points="147.85,441.33 151.55,447.75 144.15,447.75" stroke="#CD9600" stroke-width="0.85" fill="none" stroke-linejoin="miter"/>
<polygon points="161.30,433.76 165.00,440.18 157.59,440.18" stroke="#CD9600" stroke-width="0.85" fill="none" stroke-linejoin="miter"/>
<polygon points="174.75,426.33 178.45,432.74 171.04,432.74" stroke="#CD9600" stroke-width="0.85" fill="none" stroke-linejoin="miter"/>
<polygon points="188.19,419.02 191.90,425.43 184.49,425.43" stroke="#CD9600" stroke-width="0.85" fill="none" stroke-linejoin="miter"/>
<polygon points="201.64,411.83 205.35,418.25 197.94,418.25" stroke="#CD9600" stroke-width="0.85" fill="none" stroke-linejoin="miter"/>
<polygon points="215.09,404.76 218.79,411.18 211.39,411.18" stroke="#CD9600" stroke-width="0.85" fill="none" stroke-linejoin="miter"/>
<polygon points="228.54,397.81 232.24,404.23 224.83,404.23" stroke="#CD9600" stroke-width="0.85" fill="none" stroke-linejoin="miter"/>
<polygon points="241.99,390.98 245.69,397.40 238.28,397.40" stroke="#CD9600" stroke-width="0.85" fill="none" stroke-linejoin="miter"/>
<path d="M49.82 509.92H57.60M53.71 506.03V513.81" stroke="#7CAE00" stroke-width="0.85" fill="none"/>
<path d="M63.27 497.05H71.05M67.16 493.16V500.94" stroke="#7CAE00" stroke-width="0.85" fill="none"/>
<path d="M76.72 487.62H84.50M80.61 483.73V491.51" stroke="#7CAE00" stroke-width="0.85" fill="none"/>
<path d="M90.17 479.68H97.95M94.06 475.79V483.57" stroke="#7CAE00" stroke-width="0.85" fill="none"/>
<path d="M103.62 472.68H111.39M107.51 468.79V476.57" stroke="#7CAE00" stroke-width="0.85" fill="none"/>
<path d="M117.06 466.41H124.84M120.95 462.52V470.30" stroke="#7CAE00" stroke-width="0.85" fill="none"/>
<path d="M130.51 460.77H138.29M134.40 456.88V464.66" stroke="#7CAE00" stroke-width="0.85" fill="none"/>
<path d="M143.96 455.70H151.74M147.85 451.81V459.59" stroke="#7CAE00" stroke-width="0.85" fill="none"/>
<path d="M157.41 451.17H165.19M161.30 447.28V455.06" stroke="#7CAE00" stroke-width="0.85" fill="none"/>
<path d="M170.86 447.16H178.64M174.75 443.27V451.05" stroke="#7CAE00" stroke-width="0.85" fill="none"/>
<path d="M184.31 443.64H192.08M188.19 439.75V447.52" stroke="#7CAE00" stroke-width="0.85" fill="none"/>
<path d="M197.75 440.58H205.53M201.64 436.69V444.47" stroke="#7CAE00" stroke-width="0.85" fill="none"/>
<path d="M211.20 437.97H218.98M215.09 434.08V441.86" stroke="#7CAE00" stroke-width="0.85" fill="none"/>
<path d="M224.65 435.77H232.43M228.54 431.88V439.66" stroke="#7CAE00" stroke-width="0.85" fill="none"/>
<path d="M238.10 433.95H245.88M241.99 430.06V437.84" stroke="#7CAE00" stroke-width="0.85" fill="none"/>
<path d="M50.96 507.17L56.46 512.67M50.96 512.67L56.46 507.17" stroke="#00BE67" stroke-width="0.85" fill="none"/>
<path d="M64.41 494.73L69.91 500.23M64.41 500.23L69.91 494.73" stroke="#00BE67" stroke-width="0.85" fill="none"/>
<path d="M77.86 486.10L83.36 491.60M77.86 491.60L83.36 486.10" stroke="#00BE67" stroke-width="0.85" fill="none"/>
<path d="M91.31 479.38L96.81 484.88M91.31 484.88L96.81 479.38" stroke="#00BE67" stroke-width="0.85" fill="none"/>
<path d="M104.76 474.01L110.26 479.51M104.76 479.51L110.26 474.01" stroke="#00BE67" stroke-width="0.85" fill="none"/>
<path d="M118.20 469.74L123.70 475.24M118.20 475.24L123.70 469.74" stroke="#00BE67" stroke-width="0.85" fill="none"/>
<path d="M131.65 466.42L137.15 471.92M131.65 471.92L137.15 466.42" stroke="#00BE67" stroke-width="0.85" fill="none"/>
<path d="M145.10 463.92L150.60 469.42M145.10 469.42L150.60 463.92" stroke="#00BE67" stroke-width="0.85" fill="none"/>
<path d="M158.55 462.12L164.05 467.62M158.55 467.62L164.05 462.12" stroke="#00BE67" stroke-width="0.85" fill="none"/>
<path d="M172.00 460.88L177.50 466.38M172.00 466.38L177.50 460.88" stroke="#00BE67" stroke-width="0.85" fill="none"/>
<path d="M185.44 460.09L190.94 465.59M185.44 465.59L190.94 460.09" stroke="#00BE67" stroke-width="0.85" fill="none"/>
<path d="M198.89 459.62L204.39 465.12M198.89 465.12L204.39 459.62" stroke="#00BE67" stroke-width="0.85" fill="none"/>
<path d="M212.34 459.36L217.84 464.86M212.34 464.86L217.84 459.36" stroke="#00BE67" stroke-width="0.85" fill="none"/>
<path d="M225.79 459.24L231.29 464.74M225.79 464.74L231.29 459.24" stroke="#00BE67" stroke-width="0.85" fill="none"/>
<path d="M239.24 459.18L244.74 464.68M239.24 464.68L244.74 459.18" stroke="#00BE67" stroke-width="0.85" fill="none"/>
<path d="M49.82 509.92L53.71 506.03L57.60 509.92L53.71 513.81Z" stroke="#00BFC4" stroke-width="0.85" fill="none"/>
<path d="M63.27 497.92L67.16 494.03L71.05 497.92L67.16 501.81Z" stroke="#00BFC4" stroke-width="0.85" fill="none"/>
<path d="M76.72 490.10L80.61 486.21L84.50 490.10L80.61 493.99Z" stroke="#00BFC4" stroke-width="0.85" fill="none"/>
<path d="M90.17 484.53L94.06 480.64L97.95 484.53L94.06 488.42Z" stroke="#00BFC4" stroke-width="0.85" fill="none"/>
<path d="M103.62 480.59L107.51 476.70L111.39 480.59L107.51 484.48Z" stroke="#00BFC4" stroke-width="0.85" fill="none"/>
<path d="M117.06 477.93L120.95 474.04L124.84 477.93L120.95 481.82Z" stroke="#00BFC4" stroke-width="0.85" fill="none"/>
<path d="M130.51 476.24L134.40 472.36L138.29 476.24L134.40 480.13Z" stroke="#00BFC4" stroke-width="0.85" fill="none"/>
<path d="M143.96 475.28L147.85 471.39L151.74 475.28L147.85 479.17Z" stroke="#00BFC4" stroke-width="0.85" fill="none"/>
<path d="M157.41 474.78L161.30 470.89L165.19 474.78L161.30 478.67Z" stroke="#00BFC4" stroke-width="0.85" fill="none"/>
<path d="M170.86 474.56L174.75 470.67L178.64 474.56L174.75 478.45Z" stroke="#00BFC4" stroke-width="0.85" fill="none"/>
<path d="M184.31 474.47L188.19 470.58L192.08 474.47L188.19 478.36Z" stroke="#00BFC4" stroke-width="0.85" fill="none"/>
<path d="M197.75 474.44L201.64 470.55L205.53 474.44L201.64 478.33Z" stroke="#00BFC4" stroke-width="0.85" fill="none"/>
<path d="M211.20 474.43L215.09 470.55L218.98 474.43L215.09 478.32Z" stroke="#00BFC4" stroke-width="0.85" fill="none"/>
<path d="M224.65 474.43L228.54 470.54L232.43 474.43L228.54 478.32Z" stroke="#00BFC4" stroke-width="0.85" fill="none"/>
<path d="M238.10 474.43L241.99 470.54L245.88 474.43L241.99 478.32Z" stroke="#00BFC4" stroke-width="0.85" fill="none"/>
<polygon points="53.71,514.19 57.42,507.78 50.01,507.78" stroke="#00A9FF" stroke-width="0.85" fill="none" stroke-linejoin="miter"/>
<polygon points="67.16,502.65 70.87,496.23 63.46,496.23" stroke="#00A9FF" stroke-width="0.85" fill="none" stroke-linejoin="miter"/>
<polygon points="80.61,495.63 84.31,489.21 76.91,489.21" stroke="#00A9FF" stroke-width="0.85" fill="none" stroke-linejoin="miter"/>
<polygon points="94.06,491.13 97.76,484.71 90.35,484.71" stroke="#00A9FF" stroke-width="0.85" fill="none" stroke-linejoin="miter"/>
<polygon points="107.51,488.39 111.21,481.97 103.80,481.97" stroke="#00A9FF" stroke-width="0.85" fill="none" stroke-linejoin="miter"/>
<polygon points="120.95,486.88 124.66,480.46 117.25,480.46" stroke="#00A9FF" stroke-width="0.85" fill="none" stroke-linejoin="miter"/>
<polygon points="134.40,486.16 138.11,479.74 130.70,479.74" stroke="#00A9FF" stroke-width="0.85" fill="none" stroke-linejoin="miter"/>
<polygon points="147.85,485.87 151.55,479.45 144.15,479.45" stroke="#00A9FF" stroke-width="0.85" fill="none" stroke-linejoin="miter"/>
<polygon points="161.30,485.77 165.00,479.36 157.59,479.36" stroke="#00A9FF" stroke-width="0.85" fill="none" stroke-linejoin="miter"/>
<polygon points="174.75,485.74 178.45,479.33 171.04,479.33" stroke="#00A9FF" stroke-width="0.85" fill="none" stroke-linejoin="miter"/>
<polygon points="188.19,485.74 191.90,479.32 184.49,479.32" stroke="#00A9FF" stroke-width="0.85" fill="none" stroke-linejoin="miter"/>
<polygon points="201.64,485.74 205.35,479.32 197.94,479.32" stroke="#00A9FF" stroke-width="0.85" fill="none" stroke-linejoin="miter"/>
<polygon points="215.09,485.74 218.79,479.32 211.39,479.32" stroke="#00A9FF" stroke-width="0.85" fill="none" stroke-linejoin="miter"/>
<polygon points="228.54,485.74 232.24,479.32 224.83,479.32" stroke="#00A9FF" stroke-width="0.85" fill="none" stroke-linejoin="miter"/>
<polygon points="241.99,485.74 245.69,479.32 238.28,479.32" stroke="#00A9FF" stroke-width="0.85" fill="none" stroke-linejoin="miter"/>
<path d="M50.96 507.17H56.46V512.67H50.96ZM50.96 507.17L56.46 512.67M50.96 512.67L56.46 507.17" stroke="#C77CFF" stroke-width="0.85" fill="none"/>
<path d="M64.41 496.37H69.91V501.87H64.41ZM64.41 496.37L69.91 501.87M64.41 501.87L69.91 496.37" stroke="#C77CFF" stroke-width="0.85" fill="none"/>
<path d="M77.86 490.57H83.36V496.07H77.86ZM77.86 490.57L83.36 496.07M77.86 496.07L83.36 490.57" stroke="#C77CFF" stroke-width="0.85" fill="none"/>
<path d="M91.31 487.52H96.81V493.02H91.31ZM91.31 487.52L96.81 493.02M91.31 493.02L96.81 487.52" stroke="#C77CFF" stroke-width="0.85" fill="none"/>
<path d="M104.76 486.14H110.26V491.64H104.76ZM104.76 486.14L110.26 491.64M104.76 491.64L110.26 486.14" stroke="#C77CFF" stroke-width="0.85" fill="none"/>
<path d="M118.20 485.64H123.70V491.14H118.20ZM118.20 485.64L123.70 491.14M118.20 491.14L123.70 485.64" stroke="#C77CFF" stroke-width="0.85" fill="none"/>
<path d="M131.65 485.50H137.15V491.00H131.65ZM131.65 485.50L137.15 491.00M131.65 491.00L137.15 485.50" stroke="#C77CFF" stroke-width="0.85" fill="none"/>
<path d="M145.10 485.47H150.60V490.97H145.10ZM145.10 485.47L150.60 490.97M145.10 490.97L150.60 485.47" stroke="#C77CFF" stroke-width="0.85" fill="none"/>
<path d="M158.55 485.47H164.05V490.97H158.55ZM158.55 485.47L164.05 490.97M158.55 490.97L164.05 485.47" stroke="#C77CFF" stroke-width="0.85" fill="none"/>
<path d="M172.00 485.47H177.50V490.97H172.00ZM172.00 485.47L177.50 490.97M172.00 490.97L177.50 485.47" stroke="#C77CFF" stroke-width="0.85" fill="none"/>
<path d="M185.44 485.47H190.94V490.97H185.44ZM185.44 485.47L190.94 490.97M185.44 490.97L190.94 485.47" stroke="#C77CFF" stroke-width="0.85" fill="none"/>
<path d="M198.89 485.47H204.39V490.97H198.89ZM198.89 485.47L204.39 490.97M198.89 490.97L204.39 485.47" stroke="#C77CFF" stroke-width="0.85" fill="none"/>
<path d="M212.34 485.47H217.84V490.97H212.34ZM212.34 485.47L217.84 490.97M212.34 490.97L217.84 485.47" stroke="#C77CFF" stroke-width="0.85" fill="none"/>
<path d="M225.79 485.47H231.29V490.97H225.79ZM225.79 485.47L231.29 490.97M225.79 490.97L231.29 485.47" stroke="#C77CFF" stroke-width="0.85" fill="none"/>
<path d="M239.24 485.47H244.74V490.97H239.24ZM239.24 485.47L244.74 490.97M239.24 490.97L244.74 485.47" stroke="#C77CFF" stroke-width="0.85" fill="none"/>
<path d="M50.96 507.17L56.46 512.67M50.96 512.67L56.46 507.17M49.82 509.92H57.60M53.71 506.03V513.81" stroke="#FF61CC" stroke-width="0.85" fill="none"/>
<path d="M64.41 497.50L69.91 503.00M64.41 503.00L69.91 497.50M63.27 500.25H71.05M67.16 496.36V504.14" stroke="#FF61CC" stroke-width="0.85" fill="none"/>
<path d="M77.86 493.31L83.36 498.81M77.86 498.81L83.36 493.31M76.72 496.06H84.50M80.61 492.17V499.95" stroke="#FF61CC" stroke-width="0.85" fill="none"/>
<path d="M91.31 491.78L96.81 497.28M91.31 497.28L96.81 491.78M90.17 494.53H97.95M94.06 490.65V498.42" stroke="#FF61CC" stroke-width="0.85" fill="none"/>
<path d="M104.76 491.39L110.26 496.89M104.76 496.89L110.26 491.39M103.62 494.14H111.39M107.51 490.25V498.02" stroke="#FF61CC" stroke-width="0.85" fill="none"/>
<path d="M118.20 491.32L123.70 496.82M118.20 496.82L123.70 491.32M117.06 494.07H124.84M120.95 490.18V497.96" stroke="#FF61CC" stroke-width="0.85" fill="none"/>
<path d="M131.65 491.31L137.15 496.81M131.65 496.81L137.15 491.31M130.51 494.06H138.29M134.40 490.17V497.95" stroke="#FF61CC" stroke-width="0.85" fill="none"/>
<path d="M145.10 491.31L150.60 496.81M145.10 496.81L150.60 491.31M143.96 494.06H151.74M147.85 490.17V497.95" stroke="#FF61CC" stroke-width="0.85" fill="none"/>
<path d="M158.55 491.31L164.05 496.81M158.55 496.81L164.05 491.31M157.41 494.06H165.19M161.30 490.17V497.95" stroke="#FF61CC" stroke-width="0.85" fill="none"/>
<path d="M172.00 491.31L177.50 496.81M172.00 496.81L177.50 491.31M170.86 494.06H178.64M174.75 490.17V497.95" stroke="#FF61CC" stroke-width="0.85" fill="none"/>
<path d="M185.44 491.31L190.94 496.81M185.44 496.81L190.94 491.31M184.31 494.06H192.08M188.19 490.17V497.95" stroke="#FF61CC" stroke-width="0.85" fill="none"/>
<path d="M198.89 491.31L204.39 496.81M198.89 496.81L204.39 491.31M197.75 494.06H205.53M201.64 490.17V497.95" stroke="#FF61CC" stroke-width="0.85" fill="none"/>
<path d="M212.34 491.31L217.84 496.81M212.34 496.81L217.84 491.31M211.20 494.06H218.98M215.09 490.17V497.95" stroke="#FF61CC" stroke-width="0.85" fill="none"/>
<path d="M225.79 491.31L231.29 496.81M225.79 496.81L231.29 491.31M224.65 494.06H232.43M228.54 490.17V497.95" stroke="#FF61CC" stroke-width="0.85" fill="none"/>
<path d="M239.24 491.31L244.74 496.81M239.24 496.81L244.74 491.31M238.10 494.06H245.88M241.99 490.17V497.95" stroke="#FF61CC" stroke-width="0.85" fill="none"/>
<rect x="44.30" y="378.00" width="207.10" height="138.20" fill="none" stroke="#474747" stroke-width="1"/>
<g stroke="#333333" stroke-width="1.1">
<line x1="53.71" y1="516.20" x2="53.71" y2="520.20"/>
<line x1="67.16" y1="516.20" x2="67.16" y2="520.20"/>
<line x1="80.61" y1="516.20" x2="80.61" y2="520.20"/>
<line x1="94.06" y1="516.20" x2="94.06" y2="520.20"/>
<line x1="107.51" y1="516.20" x2="107.51" y2="520.20"/>
<line x1="120.95" y1="516.20" x2="120.95" y2="520.20"/>
<line x1="134.40" y1="516.20" x2="134.40" y2="520.20"/>
<line x1="147.85" y1="516.20" x2="147.85" y2="520.20"/>
<line x1="161.30" y1="516.20" x2="161.30" y2="520.20"/>
<line x1="174.75" y1="516.20" x2="174.75" y2="520.20"/>
<line x1="188.19" y1="516.20" x2="188.19" y2="520.20"/>
<line x1="201.64" y1="516.20" x2="201.64" y2="520.20"/>
<line x1="215.09" y1="516.20" x2="215.09" y2="520.20"/>
<line x1="228.54" y1="516.20" x2="228.54" y2="520.20"/>
<line x1="241.99" y1="516.20" x2="241.99" y2="520.20"/>
<line x1="40.30" y1="490.47" x2="44.30" y2="490.47"/>
<line x1="40.30" y1="434.82" x2="44.30" y2="434.82"/>
<line x1="40.30" y1="379.18" x2="44.30" y2="379.18"/>
</g>
<g fill="#4D4D4D" font-size="9.1" text-anchor="middle">
<text x="53.71" y="529.60">1</text>
<text x="67.16" y="529.60">2</text>
<text x="80.61" y="529.60">3</text>
<text x="94.06" y="529.60">4</text>
<text x="107.51" y="529.60">5</text>
<text x="120.95" y="529.60">6</text>
<text x="134.40" y="529.60">7</text>
<text x="147.85" y="529.60">8</text>
<text x="161.30" y="529.60">9</text>
<text x="174.75" y="529.60">10</text>
<text x="188.19" y="529.60">11</text>
<text x="201.64" y="529.60">12</text>
<text x="215.09" y="529.60">13</text>
<text x="228.54" y="529.60">14</text>
<text x="241.99" y="529.60">15</text>
</g>
<g fill="#4D4D4D" font-size="8.6" text-anchor="end">
<text x="36.50" y="495.07">10<tspan font-size="5.8" dy="-4.3">1</tspan></text>
<text x="36.50" y="439.42">10<tspan font-size="5.8" dy="-4.3">3</tspan></text>
<text x="36.50" y="383.78">10<tspan font-size="5.8" dy="-4.3">5</tspan></text>
</g>
<text x="5.00" y="380.10" font-size="8.8" font-weight="bold">E</text>
<text transform="translate(17.40,448.00) rotate(-90)" font-size="10.0" text-anchor="middle"><tspan font-style="italic">F</tspan>(<tspan font-style="italic">R</tspan><tspan font-size="7.00" dy="1.8">0</tspan><tspan dy="-1.8" dx="1.3">=</tspan><tspan dx="1.3">2,</tspan><tspan dx="1" font-style="italic">k</tspan><tspan>;</tspan><tspan dx="1" font-style="italic">m</tspan>)</text>
<text x="147.85" y="543.70" font-size="9.6" text-anchor="middle">Number of virus spread (<tspan font-style="italic">m</tspan>)</text>
<text x="281.3" y="466.3" font-size="10.6" font-style="italic">k</text>
<circle cx="302.60" cy="450.40" r="2.75" stroke="#F8766D" stroke-width="0.85" fill="none"/>
<text x="320.00" y="453.60" font-size="9.1" fill="#000">1</text>
<polygon points="302.60,470.32 306.30,476.74 298.90,476.74" stroke="#CD9600" stroke-width="0.85" fill="none" stroke-linejoin="miter"/>
<text x="320.00" y="477.80" font-size="9.1" fill="#000">0.99</text>
<path d="M350.11 450.40H357.89M354.00 446.51V454.29" stroke="#7CAE00" stroke-width="0.85" fill="none"/>
<text x="371.40" y="453.60" font-size="9.1" fill="#000">0.95</text>
<path d="M351.25 471.85L356.75 477.35M351.25 477.35L356.75 471.85" stroke="#00BE67" stroke-width="0.85" fill="none"/>
<text x="371.40" y="477.80" font-size="9.1" fill="#000">0.9</text>
<path d="M401.31 450.40L405.20 446.51L409.09 450.40L405.20 454.29Z" stroke="#00BFC4" stroke-width="0.85" fill="none"/>
<text x="422.60" y="453.60" font-size="9.1" fill="#000">0.85</text>
<polygon points="405.20,478.88 408.90,472.46 401.50,472.46" stroke="#00A9FF" stroke-width="0.85" fill="none" stroke-linejoin="miter"/>
<text x="422.60" y="477.80" font-size="9.1" fill="#000">0.8</text>
<path d="M453.45 447.65H458.95V453.15H453.45ZM453.45 447.65L458.95 453.15M453.45 453.15L458.95 447.65" stroke="#C77CFF" stroke-width="0.85" fill="none"/>
<text x="473.60" y="453.60" font-size="9.1" fill="#000">0.722</text>
<path d="M453.45 471.85L458.95 477.35M453.45 477.35L458.95 471.85M452.31 474.60H460.09M456.20 470.71V478.49" stroke="#FF61CC" stroke-width="0.85" fill="none"/>
<text x="473.60" y="477.80" font-size="9.1" fill="#000">0.613</text>
</svg></body></html>
